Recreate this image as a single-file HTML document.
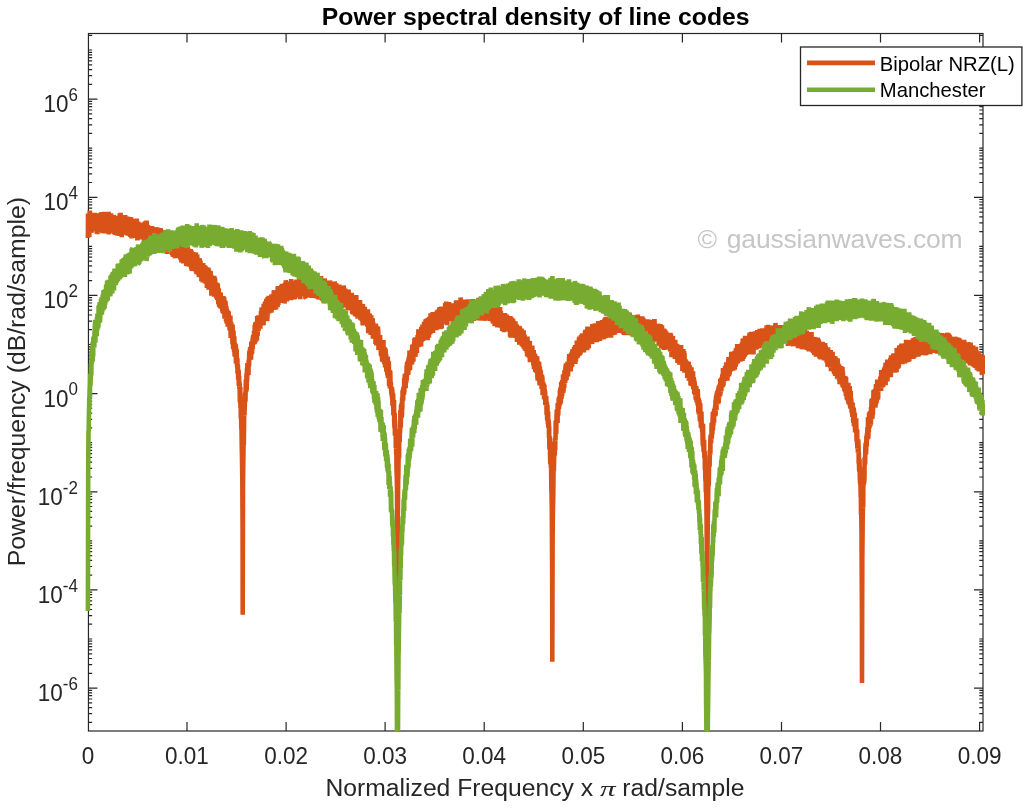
<!DOCTYPE html>
<html lang="en"><head><meta charset="utf-8"><title>Power spectral density of line codes</title>
<style>
html,body{margin:0;padding:0;background:#fff}
body{width:1024px;height:810px;overflow:hidden}
svg{display:block}
text{font-family:"Liberation Sans", sans-serif;fill:#262626}
.tk{font-size:22.5px}
.ex{font-size:17px}
.lb{font-size:24.7px}
.lg{font-size:20.25px;fill:#000}
</style></head><body>
<svg width="1024" height="810" viewBox="0 0 1024 810">
<rect width="1024" height="810" fill="#fff"/>
<defs><clipPath id="cp"><rect x="84.45" y="33.5" width="900.55" height="698.1"/></clipPath></defs>

<text x="697.6" y="248" style="font-size:26.5px;fill:#c6c6c6;word-spacing:2.6px;letter-spacing:-0.17px">© gaussianwaves.com</text>
<g stroke="#262626" stroke-width="1.2" fill="none">
<rect x="88.45" y="33.5" width="894.55" height="697.5"/>
<path d="M187.0,731.0v-9M187.0,33.5v9M286.1,731.0v-9M286.1,33.5v9M385.1,731.0v-9M385.1,33.5v9M484.2,731.0v-9M484.2,33.5v9M583.3,731.0v-9M583.3,33.5v9M682.4,731.0v-9M682.4,33.5v9M781.5,731.0v-9M781.5,33.5v9M880.5,731.0v-9M880.5,33.5v9M979.6,731.0v-9M979.6,33.5v9M88.45,722.4h3.7M983.0,722.4h-3.7M88.45,713.7h3.7M983.0,713.7h-3.7M88.45,707.6h3.7M983.0,707.6h-3.7M88.45,702.9h3.7M983.0,702.9h-3.7M88.45,699.0h3.7M983.0,699.0h-3.7M88.45,695.7h3.7M983.0,695.7h-3.7M88.45,692.8h3.7M983.0,692.8h-3.7M88.45,690.3h3.7M983.0,690.3h-3.7M88.45,688.1h9M983.0,688.1h-9M88.45,673.3h3.7M983.0,673.3h-3.7M88.45,664.7h3.7M983.0,664.7h-3.7M88.45,658.5h3.7M983.0,658.5h-3.7M88.45,653.8h3.7M983.0,653.8h-3.7M88.45,649.9h3.7M983.0,649.9h-3.7M88.45,646.6h3.7M983.0,646.6h-3.7M88.45,643.8h3.7M983.0,643.8h-3.7M88.45,641.2h3.7M983.0,641.2h-3.7M88.45,639.0h3.7M983.0,639.0h-3.7M88.45,624.2h3.7M983.0,624.2h-3.7M88.45,615.6h3.7M983.0,615.6h-3.7M88.45,609.5h3.7M983.0,609.5h-3.7M88.45,604.7h3.7M983.0,604.7h-3.7M88.45,600.8h3.7M983.0,600.8h-3.7M88.45,597.5h3.7M983.0,597.5h-3.7M88.45,594.7h3.7M983.0,594.7h-3.7M88.45,592.2h3.7M983.0,592.2h-3.7M88.45,589.9h9M983.0,589.9h-9M88.45,575.1h3.7M983.0,575.1h-3.7M88.45,566.5h3.7M983.0,566.5h-3.7M88.45,560.4h3.7M983.0,560.4h-3.7M88.45,555.6h3.7M983.0,555.6h-3.7M88.45,551.7h3.7M983.0,551.7h-3.7M88.45,548.4h3.7M983.0,548.4h-3.7M88.45,545.6h3.7M983.0,545.6h-3.7M88.45,543.1h3.7M983.0,543.1h-3.7M88.45,540.8h3.7M983.0,540.8h-3.7M88.45,526.1h3.7M983.0,526.1h-3.7M88.45,517.4h3.7M983.0,517.4h-3.7M88.45,511.3h3.7M983.0,511.3h-3.7M88.45,506.5h3.7M983.0,506.5h-3.7M88.45,502.6h3.7M983.0,502.6h-3.7M88.45,499.4h3.7M983.0,499.4h-3.7M88.45,496.5h3.7M983.0,496.5h-3.7M88.45,494.0h3.7M983.0,494.0h-3.7M88.45,491.8h9M983.0,491.8h-9M88.45,477.0h3.7M983.0,477.0h-3.7M88.45,468.3h3.7M983.0,468.3h-3.7M88.45,462.2h3.7M983.0,462.2h-3.7M88.45,457.5h3.7M983.0,457.5h-3.7M88.45,453.6h3.7M983.0,453.6h-3.7M88.45,450.3h3.7M983.0,450.3h-3.7M88.45,447.4h3.7M983.0,447.4h-3.7M88.45,444.9h3.7M983.0,444.9h-3.7M88.45,442.7h3.7M983.0,442.7h-3.7M88.45,427.9h3.7M983.0,427.9h-3.7M88.45,419.3h3.7M983.0,419.3h-3.7M88.45,413.1h3.7M983.0,413.1h-3.7M88.45,408.4h3.7M983.0,408.4h-3.7M88.45,404.5h3.7M983.0,404.5h-3.7M88.45,401.2h3.7M983.0,401.2h-3.7M88.45,398.4h3.7M983.0,398.4h-3.7M88.45,395.8h3.7M983.0,395.8h-3.7M88.45,393.6h9M983.0,393.6h-9M88.45,378.8h3.7M983.0,378.8h-3.7M88.45,370.2h3.7M983.0,370.2h-3.7M88.45,364.1h3.7M983.0,364.1h-3.7M88.45,359.3h3.7M983.0,359.3h-3.7M88.45,355.4h3.7M983.0,355.4h-3.7M88.45,352.1h3.7M983.0,352.1h-3.7M88.45,349.3h3.7M983.0,349.3h-3.7M88.45,346.8h3.7M983.0,346.8h-3.7M88.45,344.5h3.7M983.0,344.5h-3.7M88.45,329.7h3.7M983.0,329.7h-3.7M88.45,321.1h3.7M983.0,321.1h-3.7M88.45,315.0h3.7M983.0,315.0h-3.7M88.45,310.2h3.7M983.0,310.2h-3.7M88.45,306.3h3.7M983.0,306.3h-3.7M88.45,303.0h3.7M983.0,303.0h-3.7M88.45,300.2h3.7M983.0,300.2h-3.7M88.45,297.7h3.7M983.0,297.7h-3.7M88.45,295.4h9M983.0,295.4h-9M88.45,280.7h3.7M983.0,280.7h-3.7M88.45,272.0h3.7M983.0,272.0h-3.7M88.45,265.9h3.7M983.0,265.9h-3.7M88.45,261.1h3.7M983.0,261.1h-3.7M88.45,257.2h3.7M983.0,257.2h-3.7M88.45,254.0h3.7M983.0,254.0h-3.7M88.45,251.1h3.7M983.0,251.1h-3.7M88.45,248.6h3.7M983.0,248.6h-3.7M88.45,246.4h3.7M983.0,246.4h-3.7M88.45,231.6h3.7M983.0,231.6h-3.7M88.45,222.9h3.7M983.0,222.9h-3.7M88.45,216.8h3.7M983.0,216.8h-3.7M88.45,212.1h3.7M983.0,212.1h-3.7M88.45,208.2h3.7M983.0,208.2h-3.7M88.45,204.9h3.7M983.0,204.9h-3.7M88.45,202.0h3.7M983.0,202.0h-3.7M88.45,199.5h3.7M983.0,199.5h-3.7M88.45,197.3h9M983.0,197.3h-9M88.45,182.5h3.7M983.0,182.5h-3.7M88.45,173.9h3.7M983.0,173.9h-3.7M88.45,167.7h3.7M983.0,167.7h-3.7M88.45,163.0h3.7M983.0,163.0h-3.7M88.45,159.1h3.7M983.0,159.1h-3.7M88.45,155.8h3.7M983.0,155.8h-3.7M88.45,153.0h3.7M983.0,153.0h-3.7M88.45,150.4h3.7M983.0,150.4h-3.7M88.45,148.2h3.7M983.0,148.2h-3.7M88.45,133.4h3.7M983.0,133.4h-3.7M88.45,124.8h3.7M983.0,124.8h-3.7M88.45,118.7h3.7M983.0,118.7h-3.7M88.45,113.9h3.7M983.0,113.9h-3.7M88.45,110.0h3.7M983.0,110.0h-3.7M88.45,106.7h3.7M983.0,106.7h-3.7M88.45,103.9h3.7M983.0,103.9h-3.7M88.45,101.4h3.7M983.0,101.4h-3.7M88.45,99.1h9M983.0,99.1h-9M88.45,84.3h3.7M983.0,84.3h-3.7M88.45,75.7h3.7M983.0,75.7h-3.7M88.45,69.6h3.7M983.0,69.6h-3.7M88.45,64.8h3.7M983.0,64.8h-3.7M88.45,60.9h3.7M983.0,60.9h-3.7M88.45,57.6h3.7M983.0,57.6h-3.7M88.45,54.8h3.7M983.0,54.8h-3.7M88.45,52.3h3.7M983.0,52.3h-3.7M88.45,50.0h3.7M983.0,50.0h-3.7M88.45,35.3h3.7M983.0,35.3h-3.7"/>
</g>
<g clip-path="url(#cp)" fill="none" stroke-width="4.6" stroke-linejoin="bevel" stroke-linecap="butt">
<polyline stroke="#D95319" points="87.9,238.1 88.0,213.4 88.4,215.5 88.5,231.0 88.7,218.6 89.0,227.3 89.3,237.1 89.4,220.0 89.7,216.3 89.8,210.5 90.1,220.7 90.2,231.2 90.3,233.2 90.6,213.5 90.7,219.5 91.0,227.7 91.3,218.6 91.4,230.8 91.6,232.8 91.7,216.6 91.9,227.3 92.2,214.1 92.4,217.6 92.5,229.9 92.7,222.7 92.8,215.2 93.2,221.4 93.4,230.6 93.6,225.8 93.7,213.3 93.9,217.9 94.2,227.0 94.3,220.8 94.4,228.0 94.7,212.7 94.8,227.6 95.1,213.8 95.3,230.0 95.5,214.1 95.8,231.3 96.0,214.1 96.2,230.2 96.3,214.3 96.6,227.6 96.9,233.7 97.0,218.2 97.3,224.2 97.4,220.0 97.5,234.3 97.6,226.2 97.9,213.6 98.1,225.6 98.3,215.0 98.4,224.3 98.7,228.2 99.0,213.2 99.2,214.8 99.3,232.1 99.5,213.4 99.6,230.9 99.9,232.2 100.0,218.3 100.3,216.8 100.5,228.6 100.7,227.4 100.9,212.5 101.2,224.1 101.3,212.3 101.5,213.3 101.6,223.5 101.9,216.9 102.1,226.7 102.4,216.8 102.5,233.3 102.8,212.7 102.9,227.2 103.1,222.6 103.4,216.1 103.6,225.0 103.8,233.1 103.9,229.5 104.1,215.4 104.4,223.5 104.6,216.5 104.7,229.6 104.8,211.7 105.1,221.4 105.3,233.5 105.7,216.9 105.8,227.8 106.1,215.3 106.2,222.1 106.3,215.0 106.4,230.6 106.7,224.3 106.8,227.6 107.1,231.9 107.4,216.4 107.5,230.9 107.7,215.2 107.9,216.9 108.2,232.2 108.4,232.8 108.6,211.7 108.7,217.2 108.8,234.4 109.1,228.6 109.2,217.8 109.5,213.2 109.7,227.3 109.9,215.8 110.0,229.5 110.4,231.3 110.6,220.4 110.7,217.3 110.9,227.1 111.1,213.3 111.4,233.0 111.6,229.3 111.8,215.9 112.0,227.5 112.1,223.6 112.3,233.3 112.6,218.4 112.7,214.9 112.8,225.8 113.2,231.7 113.4,225.9 113.5,229.8 113.6,215.8 114.0,220.7 114.1,234.1 114.3,233.9 114.5,216.8 114.8,216.9 115.0,228.1 115.1,228.6 115.2,216.9 115.5,235.0 115.8,216.6 115.9,219.4 116.1,232.4 116.3,218.8 116.4,232.0 116.8,216.6 116.9,231.7 117.2,224.7 117.4,216.6 117.5,215.9 117.8,228.3 118.0,232.6 118.2,217.9 118.3,218.2 118.4,229.0 118.7,236.0 118.8,217.0 119.3,229.9 119.4,215.4 119.5,218.0 119.7,230.0 119.9,213.1 120.0,232.1 120.5,232.9 120.6,212.7 120.7,233.7 120.9,224.5 121.1,219.7 121.4,230.0 121.5,220.7 121.8,237.3 122.0,228.6 122.1,224.3 122.3,230.6 122.4,217.1 122.7,232.0 122.8,229.4 123.1,232.7 123.2,227.1 123.5,220.4 123.7,233.5 123.9,227.5 124.1,228.8 124.3,223.6 124.5,228.8 124.7,219.3 124.9,234.7 125.1,215.1 125.3,230.6 125.5,230.8 125.8,216.7 125.9,234.0 126.1,226.5 126.3,232.4 126.5,217.1 126.7,217.6 126.8,224.6 127.1,223.7 127.4,232.4 127.6,235.6 127.7,220.6 128.0,219.3 128.1,232.2 128.3,234.0 128.4,216.7 128.7,233.4 128.8,221.2 129.1,218.7 129.2,229.6 129.5,222.0 129.6,232.7 130.0,222.0 130.1,237.1 130.3,234.1 130.4,217.2 130.9,222.2 131.0,233.1 131.3,217.6 131.4,238.4 131.6,223.5 131.8,234.3 132.1,234.8 132.2,219.4 132.3,231.3 132.6,223.2 132.8,221.0 132.9,227.3 133.1,221.4 133.4,230.5 133.7,220.4 133.8,233.2 134.0,221.7 134.2,232.1 134.4,232.2 134.5,221.7 134.8,222.8 134.9,236.8 135.1,219.0 135.3,229.0 135.5,224.5 135.8,238.0 135.9,235.9 136.2,221.5 136.3,228.7 136.5,234.0 136.8,218.6 136.9,234.8 137.1,222.8 137.4,240.5 137.5,223.6 137.8,233.5 138.1,221.4 138.2,232.4 138.3,225.3 138.5,233.4 138.7,232.8 139.0,226.4 139.1,236.9 139.2,224.9 139.5,237.0 139.8,224.6 140.0,225.5 140.1,231.4 140.5,235.6 140.6,222.8 140.8,233.5 141.0,239.5 141.3,224.9 141.4,236.2 141.6,237.3 141.7,222.4 141.9,224.6 142.1,229.8 142.3,229.6 142.5,235.0 142.8,237.3 143.0,229.9 143.1,239.4 143.4,232.8 143.5,222.5 143.7,238.5 143.9,231.2 144.0,241.0 144.3,236.0 144.4,227.0 144.9,226.1 145.0,240.0 145.1,221.3 145.4,241.9 145.6,228.1 145.8,236.7 145.9,223.5 146.1,239.2 146.3,240.6 146.6,220.5 146.9,227.2 147.0,232.8 147.1,227.6 147.3,233.9 147.5,238.5 147.7,228.0 148.0,225.1 148.2,240.6 148.3,243.3 148.6,232.6 148.7,226.7 148.8,236.7 149.3,239.5 149.4,227.7 149.5,240.1 149.7,226.0 149.9,242.5 150.1,229.0 150.4,241.8 150.5,226.7 150.8,239.6 151.0,231.1 151.1,239.1 151.3,226.8 151.5,239.7 151.8,226.1 151.9,235.2 152.2,228.3 152.3,240.0 152.5,232.6 152.7,242.8 152.8,226.8 153.2,238.0 153.4,228.6 153.5,235.7 153.8,244.3 153.9,237.4 154.2,245.2 154.4,240.6 154.6,229.1 154.8,234.4 155.0,242.7 155.1,240.4 155.2,229.4 155.5,247.6 155.7,227.3 155.9,246.8 156.2,235.0 156.3,243.5 156.5,227.6 156.8,229.4 157.0,247.4 157.3,246.4 157.4,236.0 157.5,227.6 157.8,238.8 157.9,239.3 158.2,232.5 158.3,235.2 158.4,245.9 158.7,244.4 158.9,231.1 159.1,233.8 159.4,244.3 159.5,239.9 159.7,231.8 159.9,247.0 160.1,233.3 160.4,248.0 160.6,228.0 160.7,250.4 161.0,237.7 161.1,229.3 161.2,246.5 161.6,231.3 161.8,247.2 162.0,230.8 162.2,246.4 162.5,234.2 162.6,247.9 162.7,232.7 162.8,244.7 163.1,239.0 163.3,245.4 163.7,247.4 163.8,244.2 164.0,239.3 164.2,245.9 164.3,247.1 164.4,235.6 164.8,245.1 165.0,231.8 165.2,233.4 165.4,247.4 165.7,232.8 165.8,249.3 166.1,247.8 166.2,235.6 166.5,233.6 166.6,251.1 166.9,230.6 167.0,253.9 167.1,231.1 167.3,249.3 167.5,243.8 167.7,236.2 168.0,245.8 168.1,233.8 168.5,233.4 168.6,244.7 168.7,245.8 168.8,234.7 169.1,231.8 169.2,245.1 169.6,246.3 169.7,243.5 169.9,250.8 170.1,238.5 170.4,238.4 170.6,249.0 170.9,238.9 171.0,249.5 171.2,242.5 171.4,248.8 171.6,241.9 171.7,250.2 171.9,254.9 172.1,241.3 172.3,251.1 172.5,241.3 172.8,256.6 172.9,236.4 173.2,250.8 173.3,235.1 173.6,233.7 173.8,256.9 174.0,247.5 174.1,242.4 174.4,253.4 174.6,244.8 174.9,250.6 175.0,257.5 175.1,258.2 175.2,239.5 175.6,253.3 175.8,236.9 175.9,241.3 176.1,255.9 176.5,257.6 176.6,251.8 176.8,255.8 177.0,240.3 177.3,257.5 177.4,243.8 177.5,244.3 177.8,256.0 177.9,251.7 178.1,237.9 178.5,257.1 178.6,243.9 178.7,257.9 179.0,242.8 179.1,246.5 179.4,257.7 179.6,239.2 179.7,255.6 180.1,252.7 180.2,258.5 180.3,248.6 180.4,259.7 180.7,241.4 181.0,254.1 181.1,241.7 181.4,262.4 181.5,243.2 181.7,261.5 182.0,254.4 182.1,242.0 182.3,261.3 182.6,242.9 182.8,245.0 183.0,261.5 183.1,245.9 183.2,263.5 183.6,247.4 183.8,259.0 183.9,253.2 184.1,261.9 184.3,263.0 184.4,251.3 184.9,260.9 185.0,245.6 185.3,257.7 185.4,247.4 185.5,259.8 185.6,247.3 186.1,247.0 186.2,266.0 186.3,247.2 186.6,261.1 186.9,252.1 187.0,266.3 187.1,252.6 187.3,246.6 187.7,247.1 187.8,263.4 188.0,247.5 188.1,255.5 188.3,264.3 188.4,257.4 188.7,265.8 188.8,249.2 189.2,260.6 189.3,266.7 189.5,254.6 189.8,264.8 189.9,255.2 190.0,259.2 190.3,254.0 190.4,262.8 190.7,248.9 190.8,264.6 191.3,269.0 191.4,250.4 191.7,254.4 191.8,271.1 192.1,266.8 192.2,260.4 192.5,269.0 192.6,252.5 192.7,252.4 192.9,266.3 193.2,262.5 193.3,257.2 193.6,269.4 193.8,257.9 194.0,267.8 194.1,252.6 194.5,255.3 194.6,265.6 194.7,263.7 195.0,253.7 195.3,268.9 195.4,254.5 195.5,269.6 195.6,258.3 195.9,252.5 196.0,272.5 196.4,262.2 196.5,273.9 196.8,270.8 197.0,263.6 197.2,254.5 197.3,270.0 197.5,274.5 197.7,258.2 197.9,257.9 198.1,267.7 198.4,262.7 198.6,274.7 198.7,263.0 198.9,277.1 199.1,274.6 199.4,257.9 199.5,275.1 199.7,258.7 200.0,276.4 200.1,262.3 200.5,260.4 200.6,274.2 200.7,267.2 200.9,273.9 201.3,264.4 201.4,281.3 201.5,279.2 201.7,266.8 202.0,267.2 202.2,275.0 202.3,279.8 202.5,264.1 202.7,282.6 203.0,267.4 203.2,263.0 203.4,273.8 203.6,265.1 203.8,274.0 203.9,267.1 204.2,277.4 204.3,281.7 204.4,265.4 204.9,280.6 205.0,272.4 205.1,283.1 205.2,266.1 205.6,267.4 205.8,283.9 206.1,279.6 206.2,270.2 206.3,267.5 206.5,279.4 206.8,267.3 206.9,287.9 207.1,272.8 207.2,281.3 207.6,271.9 207.7,283.7 207.9,285.5 208.2,269.4 208.4,267.6 208.6,289.8 208.8,269.2 209.0,287.2 209.2,271.2 209.4,279.6 209.5,277.0 209.8,288.8 210.0,287.4 210.2,274.4 210.4,284.7 210.5,270.9 210.8,275.2 210.9,284.1 211.2,274.8 211.4,295.8 211.7,282.1 211.8,276.3 212.0,291.4 212.1,286.4 212.4,281.5 212.6,286.1 212.7,293.9 212.9,276.0 213.2,295.7 213.3,279.1 213.6,287.6 213.8,277.1 213.9,281.3 214.1,296.6 214.3,275.8 214.4,296.7 214.7,292.0 215.0,277.9 215.3,282.3 215.4,290.8 215.7,290.6 215.8,294.2 216.1,292.0 216.2,298.4 216.4,284.3 216.5,292.1 216.7,286.3 217.0,293.4 217.2,282.8 217.3,299.9 217.7,292.5 217.8,283.9 218.0,292.9 218.1,300.1 218.4,304.2 218.6,288.6 218.7,289.6 218.9,299.1 219.1,306.6 219.4,293.6 219.6,305.5 219.7,295.0 220.1,307.7 220.2,295.4 220.4,292.4 220.6,308.5 220.7,293.1 220.8,303.2 221.1,304.6 221.4,299.2 221.6,299.9 221.7,304.5 221.9,308.8 222.2,299.5 222.3,311.3 222.4,302.4 222.7,313.0 222.9,296.8 223.3,313.7 223.4,296.1 223.5,311.8 223.7,307.7 224.0,312.6 224.2,297.7 224.4,303.6 224.5,318.8 224.8,313.9 224.9,300.5 225.1,318.6 225.4,300.8 225.6,303.5 225.8,309.4 225.9,312.8 226.0,321.3 226.3,306.0 226.6,323.4 226.9,308.6 227.0,321.2 227.1,312.8 227.4,322.5 227.6,310.6 227.7,326.8 227.9,321.9 228.1,311.5 228.3,312.2 228.6,325.5 228.7,311.6 228.8,319.9 229.1,315.5 229.2,324.4 229.7,330.4 229.8,322.2 229.9,330.5 230.1,321.8 230.4,315.4 230.5,329.1 230.7,338.0 230.9,322.7 231.2,321.8 231.3,328.2 231.6,337.5 231.7,331.9 232.0,337.5 232.1,324.2 232.5,344.3 232.6,324.7 232.7,328.7 233.0,343.2 233.2,349.1 233.4,342.1 233.5,330.8 233.6,336.6 234.0,339.8 234.1,351.9 234.3,336.3 234.6,356.3 234.9,356.1 235.0,343.0 235.1,353.7 235.2,344.6 235.5,353.0 235.8,344.3 235.9,363.6 236.0,351.7 236.3,362.0 236.5,348.9 236.7,350.9 237.0,364.7 237.3,368.1 237.4,358.3 237.5,373.5 237.8,364.4 237.9,365.5 238.2,379.6 238.4,374.3 238.6,369.7 238.7,372.9 238.8,386.1 239.1,375.9 239.3,388.5 239.6,382.4 239.8,399.1 239.9,402.4 240.1,389.9 240.3,387.1 240.5,408.0 240.7,402.2 240.8,418.4 241.1,411.8 241.3,428.2 241.5,428.6 241.8,449.0 241.9,451.5 242.2,471.7 242.3,477.5 242.6,530.6 242.7,614.8 243.0,488.6 243.1,475.7 243.4,456.3 243.6,436.2 243.8,444.6 244.0,429.3 244.2,410.0 244.5,415.6 244.6,404.2 244.7,409.7 244.9,401.4 245.2,392.6 245.4,401.6 245.5,398.6 245.8,382.9 245.9,379.4 246.2,391.9 246.4,388.7 246.5,373.3 246.7,390.0 247.0,368.4 247.1,381.4 247.4,363.0 247.7,374.1 247.8,363.2 247.9,365.7 248.2,373.9 248.5,375.1 248.6,361.3 248.9,359.7 249.0,366.4 249.1,364.1 249.2,353.4 249.5,351.1 249.6,354.0 249.9,350.8 250.2,347.2 250.3,348.2 250.4,355.2 250.9,350.8 251.0,359.9 251.3,341.8 251.4,354.6 251.6,341.5 251.7,353.4 252.1,353.5 252.2,344.1 252.3,342.9 252.6,339.8 252.7,348.9 252.9,336.6 253.1,345.0 253.2,334.7 253.5,343.2 253.6,336.6 254.0,339.4 254.1,330.7 254.4,334.0 254.6,344.2 254.7,324.8 254.9,336.5 255.1,343.0 255.3,322.3 255.7,338.5 255.8,330.2 255.9,325.5 256.2,341.5 256.3,334.9 256.5,324.1 256.8,321.5 256.9,340.3 257.2,316.1 257.4,335.3 257.7,335.8 257.8,320.6 257.9,331.7 258.2,317.0 258.5,316.0 258.6,329.2 258.7,331.0 258.8,320.5 259.1,315.5 259.3,323.6 259.5,320.9 259.7,324.4 260.1,317.2 260.2,326.0 260.3,328.8 260.4,318.5 260.8,321.5 261.0,311.0 261.1,311.2 261.2,321.0 261.6,307.4 261.7,323.9 262.1,320.3 262.2,308.5 262.5,322.2 262.6,309.3 262.7,322.1 263.0,308.5 263.1,308.8 263.4,320.6 263.6,325.4 263.7,303.7 264.1,319.1 264.2,311.7 264.3,318.7 264.4,304.9 264.9,311.8 265.0,301.9 265.3,314.3 265.4,301.3 265.5,303.3 265.7,318.5 265.9,307.3 266.2,316.3 266.3,298.7 266.6,321.2 266.7,315.4 266.8,301.2 267.1,300.5 267.2,321.0 267.5,314.9 267.6,297.1 268.1,305.9 268.2,314.1 268.3,305.9 268.6,312.2 268.7,295.7 268.9,306.3 269.2,313.3 269.4,298.5 269.5,309.4 269.7,296.8 270.0,311.8 270.2,298.9 270.4,296.1 270.5,297.9 270.8,303.7 271.0,312.6 271.3,297.9 271.4,312.7 271.5,294.3 271.6,311.2 272.0,295.4 272.1,304.8 272.4,301.7 272.5,296.4 272.8,295.1 272.9,306.1 273.2,303.4 273.4,299.9 273.6,308.3 273.7,293.2 274.0,290.2 274.2,309.7 274.4,301.5 274.6,290.8 274.8,308.0 275.0,296.8 275.2,301.5 275.4,290.7 275.7,299.1 275.8,308.3 276.1,309.5 276.2,290.6 276.3,297.9 276.5,301.2 276.7,290.4 277.0,302.9 277.2,293.8 277.3,302.6 277.6,307.3 277.7,286.4 277.9,301.6 278.0,290.4 278.3,286.1 278.4,305.0 278.7,290.2 279.0,298.7 279.1,295.2 279.3,292.2 279.6,289.2 279.7,301.6 280.0,290.0 280.1,301.7 280.3,287.0 280.4,301.0 280.7,288.2 281.0,300.8 281.1,298.2 281.4,286.1 281.5,285.4 281.6,299.3 281.9,296.4 282.1,283.9 282.3,288.5 282.4,302.9 282.8,291.4 283.0,300.8 283.2,290.6 283.3,300.1 283.7,283.7 283.8,294.4 284.0,295.0 284.1,301.1 284.5,293.5 284.6,303.6 284.7,294.4 285.0,282.9 285.1,283.8 285.4,295.6 285.6,296.7 285.8,280.2 286.1,286.0 286.2,296.2 286.3,283.3 286.4,299.3 286.8,284.3 286.9,301.5 287.2,286.2 287.4,294.8 287.6,284.5 287.7,297.8 287.9,298.2 288.1,281.6 288.4,292.9 288.6,287.2 288.8,300.0 289.0,284.5 289.3,298.3 289.4,281.4 289.5,295.3 289.6,282.6 290.1,286.1 290.2,294.7 290.3,289.1 290.5,298.7 290.9,286.2 291.0,298.8 291.1,300.2 291.2,279.1 291.5,295.8 291.8,285.9 291.9,297.4 292.1,280.9 292.5,296.7 292.6,289.6 292.7,281.2 292.8,297.9 293.1,299.3 293.3,283.1 293.6,280.7 293.7,294.3 294.0,287.8 294.1,299.4 294.3,283.8 294.4,291.5 294.9,282.7 295.0,299.0 295.2,289.3 295.4,297.8 295.6,284.7 295.7,292.2 295.9,294.5 296.2,283.8 296.3,294.1 296.5,279.5 296.8,281.8 297.0,294.6 297.2,280.9 297.3,296.6 297.6,283.2 297.8,297.2 297.9,284.0 298.1,295.5 298.4,290.1 298.6,280.8 298.7,282.2 298.9,294.7 299.3,278.4 299.4,287.9 299.5,288.0 299.7,283.2 300.1,284.2 300.2,291.4 300.3,299.2 300.6,281.9 300.7,283.0 301.0,292.3 301.1,290.9 301.2,280.5 301.6,296.0 301.7,283.4 301.9,292.5 302.1,285.4 302.4,291.9 302.5,284.0 302.7,288.1 302.8,279.7 303.3,291.5 303.4,276.6 303.5,277.8 303.8,286.4 304.0,294.5 304.1,277.5 304.3,293.6 304.6,282.3 304.7,293.4 304.8,276.1 305.1,282.6 305.4,297.9 305.5,298.0 305.8,279.6 306.1,293.0 306.2,276.5 306.4,294.9 306.5,277.3 306.8,281.1 307.0,287.3 307.1,292.8 307.3,279.7 307.5,279.1 307.7,295.1 307.9,288.0 308.2,295.3 308.4,282.5 308.5,297.0 308.8,296.0 309.0,279.0 309.1,276.6 309.3,290.1 309.5,290.2 309.8,277.4 309.9,277.2 310.1,295.9 310.3,275.5 310.5,292.8 310.7,282.0 311.0,294.4 311.2,295.9 311.4,279.1 311.5,297.9 311.6,282.3 312.0,290.4 312.2,284.5 312.4,284.7 312.6,280.0 312.9,293.1 313.0,277.5 313.3,287.8 313.4,280.0 313.6,289.9 313.7,296.6 313.9,278.9 314.0,292.8 314.3,279.1 314.4,295.3 314.9,279.9 315.0,296.2 315.3,280.7 315.4,285.5 315.6,296.1 315.7,282.0 316.0,298.1 316.1,290.1 316.5,281.1 316.6,297.0 316.8,298.2 317.0,283.7 317.2,277.3 317.4,289.4 317.5,279.9 317.6,293.1 317.9,276.2 318.0,295.3 318.4,287.0 318.5,299.5 318.7,296.0 318.8,283.7 319.1,292.4 319.3,282.8 319.7,280.8 319.8,289.4 320.0,290.6 320.2,296.9 320.3,277.1 320.6,296.2 320.9,295.6 321.0,276.0 321.1,279.1 321.4,289.5 321.7,295.8 321.8,286.1 322.0,300.7 322.1,285.5 322.3,287.5 322.5,281.3 322.8,287.1 322.9,281.4 323.1,296.2 323.2,290.2 323.6,283.6 323.7,299.7 324.1,296.7 324.2,279.9 324.3,282.8 324.5,299.0 324.7,278.4 324.9,296.3 325.2,283.2 325.4,294.9 325.5,299.2 325.7,281.0 325.9,282.6 326.1,294.4 326.4,281.0 326.5,293.6 326.8,280.5 326.9,296.7 327.3,289.2 327.4,296.5 327.5,297.6 327.8,283.8 327.9,294.4 328.2,283.3 328.4,298.1 328.6,282.4 328.8,281.3 329.0,293.2 329.2,282.8 329.4,290.5 329.6,293.8 329.7,283.8 329.9,296.1 330.0,280.4 330.3,289.8 330.6,297.5 330.9,300.7 331.0,288.4 331.1,298.5 331.3,289.5 331.5,295.3 331.8,282.1 332.0,301.7 332.1,283.5 332.4,295.2 332.6,287.7 332.8,285.3 332.9,297.9 333.2,288.3 333.4,292.3 333.5,282.4 333.8,294.2 334.0,298.0 334.2,286.0 334.4,289.3 334.6,297.8 334.7,281.4 335.0,303.6 335.1,285.1 335.4,297.7 335.6,293.4 335.7,283.9 336.1,300.1 336.2,283.6 336.3,283.3 336.4,288.4 336.7,288.9 336.9,298.9 337.3,293.1 337.4,303.0 337.5,299.1 337.8,287.7 338.0,288.6 338.2,297.9 338.4,288.6 338.6,298.2 338.7,303.2 338.8,287.0 339.3,284.6 339.4,300.1 339.5,298.8 339.8,292.6 339.9,297.0 340.1,287.9 340.5,287.3 340.6,304.6 340.7,301.5 340.9,287.6 341.1,287.0 341.2,300.7 341.5,294.9 341.6,300.0 342.0,289.7 342.2,301.4 342.3,308.0 342.5,290.2 342.7,306.1 343.0,295.7 343.1,291.1 343.2,293.6 343.6,301.8 343.7,285.4 344.1,291.8 344.2,304.2 344.4,305.1 344.5,291.8 344.8,302.6 345.0,292.2 345.3,288.6 345.4,299.5 345.5,306.1 345.8,297.3 345.9,298.9 346.1,291.9 346.3,301.7 346.6,293.5 346.8,289.6 347.0,307.1 347.1,302.9 347.2,298.5 347.6,303.2 347.7,310.3 348.0,305.3 348.2,293.6 348.3,299.6 348.6,289.5 348.7,306.9 348.9,294.3 349.1,293.8 349.3,308.6 349.7,296.3 349.8,303.3 349.9,295.0 350.2,308.2 350.5,295.3 350.6,308.2 350.7,310.0 351.0,297.5 351.2,298.3 351.4,310.5 351.5,309.9 351.8,292.7 351.9,302.4 352.1,313.7 352.4,304.5 352.5,301.8 352.8,314.5 353.0,297.5 353.1,311.5 353.2,298.5 353.6,309.9 353.8,298.7 354.1,314.4 354.2,298.4 354.4,313.3 354.6,297.1 354.7,303.1 354.8,312.1 355.1,316.0 355.2,296.9 355.6,298.0 355.8,310.8 355.9,315.1 356.2,300.9 356.3,295.1 356.5,311.6 356.8,306.9 356.9,317.3 357.2,312.5 357.4,305.3 357.6,318.7 357.8,301.8 357.9,301.5 358.1,308.9 358.3,303.4 358.4,316.5 358.7,315.3 359.0,310.0 359.1,305.0 359.4,314.1 359.5,302.4 359.7,310.6 360.0,299.9 360.1,309.4 360.4,304.3 360.6,320.3 360.9,318.8 361.0,304.2 361.2,304.0 361.3,315.3 361.5,305.8 361.8,313.8 361.9,314.4 362.1,321.1 362.5,304.3 362.6,323.4 362.8,325.2 362.9,304.0 363.1,308.6 363.3,320.8 363.5,309.8 363.6,323.4 363.9,322.4 364.2,309.9 364.4,317.3 364.6,307.8 364.8,306.7 365.0,314.5 365.2,311.1 365.3,316.5 365.5,325.0 365.7,310.1 365.9,311.6 366.2,323.0 366.5,322.9 366.6,312.2 366.7,322.3 367.0,325.4 367.2,312.7 367.4,326.8 367.5,315.1 367.6,323.5 367.9,309.2 368.2,333.3 368.5,313.3 368.6,327.8 368.7,317.9 368.9,326.8 369.3,329.1 369.4,321.8 369.5,325.8 369.8,313.6 369.9,326.7 370.0,315.5 370.3,318.5 370.5,326.3 370.7,335.0 370.8,320.7 371.3,315.3 371.4,331.1 371.5,333.3 371.6,328.4 371.9,318.1 372.1,327.8 372.4,327.3 372.6,319.0 372.7,318.2 372.9,338.8 373.1,321.7 373.4,337.5 373.6,330.0 373.7,337.8 373.9,336.8 374.0,324.6 374.3,326.6 374.5,338.3 374.7,330.9 374.8,335.4 375.2,338.3 375.4,332.9 375.5,344.0 375.8,323.4 375.9,340.6 376.2,332.0 376.4,345.4 376.5,325.7 376.7,341.6 376.8,328.5 377.1,342.4 377.4,332.6 377.5,331.4 377.7,342.5 377.9,338.8 378.0,326.6 378.4,334.5 378.5,350.1 378.9,335.5 379.0,344.3 379.2,341.9 379.3,349.9 379.6,336.7 379.7,346.0 380.1,335.1 380.2,342.1 380.3,340.6 380.6,345.3 380.7,343.9 380.9,354.5 381.3,355.7 381.4,340.0 381.5,355.4 381.6,341.7 382.0,344.8 382.1,360.9 382.4,352.1 382.5,349.6 382.7,361.9 382.8,342.3 383.2,351.9 383.4,345.7 383.5,340.0 383.6,361.1 383.9,361.6 384.2,347.1 384.4,363.9 384.6,352.8 384.8,364.7 385.0,347.5 385.1,367.4 385.4,357.1 385.5,367.5 385.6,349.1 386.0,365.2 386.2,354.3 386.3,371.7 386.6,359.4 386.8,369.5 387.0,360.4 387.1,363.3 387.4,375.4 387.7,367.1 387.8,356.6 387.9,377.8 388.0,362.9 388.3,362.7 388.4,378.6 388.8,361.4 389.0,375.1 389.1,386.0 389.2,374.2 389.5,382.2 389.6,370.2 389.9,388.5 390.1,370.9 390.3,372.3 390.5,386.9 390.7,387.2 390.8,381.8 391.1,389.0 391.4,394.1 391.7,388.7 391.8,396.3 392.0,387.1 392.1,399.3 392.3,389.2 392.4,405.7 392.9,392.7 393.0,398.9 393.2,394.4 393.4,415.3 393.7,403.9 393.8,410.1 394.0,400.0 394.2,420.7 394.5,428.1 394.6,413.8 394.8,414.0 394.9,435.4 395.1,420.4 395.2,435.8 395.7,434.3 395.8,448.1 396.1,445.6 396.2,453.7 396.4,455.0 396.5,468.6 396.8,477.2 397.0,488.2 397.1,504.1 397.4,558.1 397.5,639.0 397.8,513.0 397.9,511.4 398.2,473.3 398.3,478.7 398.5,462.7 398.7,451.2 398.8,457.8 399.1,457.3 399.2,442.2 399.7,442.1 399.8,429.1 400.0,433.5 400.2,424.4 400.3,429.2 400.4,410.1 400.8,427.3 401.0,405.0 401.2,414.0 401.4,404.5 401.5,403.5 401.7,417.5 402.0,414.0 402.1,397.5 402.3,409.1 402.6,390.4 402.8,395.6 403.0,389.6 403.2,400.9 403.3,388.7 403.6,387.2 403.7,394.4 404.0,394.6 404.2,378.2 404.3,392.5 404.5,380.7 404.9,373.9 405.0,386.9 405.1,384.9 405.2,376.2 405.7,388.1 405.8,380.3 406.0,373.6 406.1,382.1 406.4,382.2 406.6,365.5 406.8,380.4 407.0,363.1 407.1,362.8 407.3,371.7 407.5,374.5 407.6,362.7 408.1,360.8 408.2,374.8 408.4,370.8 408.5,359.0 408.7,358.5 409.0,365.8 409.1,355.6 409.2,370.5 409.5,350.5 409.7,366.5 409.9,357.5 410.0,370.0 410.4,351.0 410.6,364.7 410.8,354.3 411.0,364.3 411.3,360.8 411.4,354.8 411.6,358.1 411.7,349.8 412.1,364.5 412.2,344.7 412.3,361.0 412.6,354.4 412.8,356.3 412.9,345.7 413.1,344.7 413.4,361.8 413.6,348.9 413.7,352.8 414.1,353.8 414.2,342.1 414.3,354.6 414.4,338.3 414.9,347.0 415.0,341.4 415.3,337.5 415.4,355.4 415.5,357.0 415.8,346.2 416.0,346.3 416.2,338.4 416.4,348.4 416.5,342.7 416.9,353.0 417.0,338.7 417.1,341.4 417.4,344.8 417.6,335.0 417.8,346.5 417.9,338.1 418.1,345.0 418.4,329.3 418.5,347.3 418.7,329.5 419.0,346.3 419.2,344.9 419.3,333.9 419.6,346.3 419.7,340.6 420.0,337.2 420.2,341.0 420.5,331.0 420.6,343.2 420.8,338.3 421.0,328.8 421.1,346.4 421.3,326.7 421.7,341.6 421.8,332.7 421.9,328.8 422.1,341.1 422.4,336.9 422.5,324.5 422.8,333.2 423.0,325.8 423.1,340.9 423.4,329.0 423.5,339.7 423.8,326.6 423.9,332.4 424.1,321.9 424.5,340.2 424.6,326.9 424.7,323.4 425.0,330.8 425.3,336.0 425.4,324.1 425.5,332.1 425.6,319.4 426.1,319.8 426.2,327.4 426.3,330.0 426.5,321.2 426.8,338.7 427.0,323.5 427.1,320.1 427.2,334.0 427.6,340.1 427.8,325.2 427.9,319.3 428.0,335.9 428.5,336.8 428.6,320.3 428.8,319.5 428.9,337.8 429.2,316.7 429.4,332.5 429.5,318.5 429.8,334.4 430.0,326.4 430.2,319.5 430.3,334.5 430.6,313.4 430.7,317.5 430.8,327.8 431.3,319.6 431.4,323.8 431.7,323.9 431.8,316.3 432.0,329.7 432.1,314.4 432.3,317.6 432.5,329.1 432.7,312.0 433.0,333.0 433.2,317.2 433.3,323.3 433.5,313.3 433.6,327.5 433.9,329.6 434.2,312.2 434.4,330.4 434.6,312.9 434.7,317.6 434.9,323.3 435.3,326.5 435.4,313.3 435.5,328.2 435.8,311.7 436.1,326.1 436.2,320.5 436.4,330.2 436.5,317.9 436.7,329.8 436.8,320.4 437.1,310.4 437.3,323.8 437.6,329.4 437.7,314.0 437.9,321.6 438.1,309.5 438.5,311.2 438.6,320.7 438.7,311.0 438.8,322.9 439.1,326.6 439.3,309.5 439.5,307.4 439.6,325.5 439.9,307.3 440.0,327.3 440.3,310.3 440.5,321.9 440.9,329.1 441.0,314.1 441.3,323.6 441.4,306.4 441.7,328.3 441.8,315.9 442.0,314.6 442.2,320.7 442.3,312.2 442.5,321.9 442.8,308.3 442.9,323.6 443.3,309.5 443.4,320.6 443.7,309.8 443.8,323.1 444.0,307.5 444.2,321.7 444.3,308.3 444.6,323.7 444.7,313.6 444.9,309.1 445.1,318.1 445.2,302.9 445.5,309.0 445.8,322.1 446.0,322.7 446.2,301.6 446.3,311.5 446.4,319.9 446.9,324.8 447.0,307.9 447.1,310.3 447.2,325.2 447.7,312.2 447.8,303.6 448.0,315.9 448.2,307.1 448.3,307.5 448.5,320.3 448.7,302.8 449.0,314.8 449.1,301.9 449.2,319.0 449.5,304.8 449.8,320.3 449.9,303.5 450.2,318.3 450.4,306.0 450.6,311.8 450.9,310.8 451.0,303.6 451.1,304.7 451.4,320.8 451.7,305.1 451.8,319.9 451.9,320.6 452.1,309.0 452.4,314.1 452.5,303.2 452.7,319.2 452.8,304.0 453.2,317.3 453.3,320.1 453.6,317.8 453.8,303.4 454.0,322.4 454.1,305.6 454.5,307.7 454.6,314.7 454.8,305.9 455.0,313.6 455.3,317.3 455.4,308.4 455.6,313.4 455.8,305.5 456.1,300.3 456.2,318.7 456.3,302.2 456.5,315.5 456.9,302.3 457.0,315.8 457.2,305.8 457.3,318.5 457.5,301.3 457.8,317.0 458.0,316.5 458.2,307.5 458.4,305.4 458.6,321.2 458.9,300.8 459.0,313.8 459.2,305.5 459.3,317.8 459.5,310.4 459.6,318.1 460.0,312.2 460.1,314.1 460.5,315.8 460.6,297.4 460.8,302.4 461.0,317.3 461.1,314.1 461.4,304.7 461.5,303.8 461.6,318.5 462.1,318.1 462.2,301.8 462.4,314.7 462.5,307.6 462.7,305.3 463.0,314.9 463.1,315.9 463.2,301.1 463.7,315.8 463.8,299.4 463.9,320.6 464.0,307.7 464.5,310.7 464.6,304.1 464.7,300.9 464.9,313.5 465.1,310.5 465.3,306.6 465.6,301.1 465.8,314.1 465.9,303.3 466.1,315.3 466.3,312.6 466.6,302.5 466.8,301.4 467.0,317.0 467.3,307.8 467.4,318.4 467.5,315.3 467.8,304.6 467.9,308.7 468.0,299.3 468.3,310.2 468.4,314.9 468.9,308.2 469.0,318.0 469.1,301.6 469.3,317.9 469.6,315.5 469.7,306.5 469.9,317.9 470.2,303.9 470.4,311.2 470.6,314.0 470.9,305.1 471.0,317.2 471.1,316.0 471.4,301.1 471.6,315.4 471.7,306.1 471.9,315.3 472.1,306.7 472.3,317.8 472.4,304.2 472.8,299.1 472.9,316.2 473.2,300.4 473.3,318.0 473.5,317.8 473.8,305.0 474.0,305.2 474.2,320.9 474.3,316.8 474.5,312.7 474.9,300.4 475.0,309.6 475.3,305.0 475.4,310.3 475.5,320.1 475.6,307.6 475.9,317.9 476.2,303.4 476.3,316.1 476.4,305.1 476.7,305.4 476.8,315.3 477.2,305.6 477.3,318.5 477.5,315.7 477.6,303.6 477.9,310.8 478.0,306.0 478.3,312.4 478.5,297.9 478.8,304.6 478.9,319.5 479.2,300.8 479.4,320.6 479.6,306.7 479.7,320.4 480.0,318.2 480.1,303.8 480.3,307.9 480.4,313.8 480.7,317.9 480.8,310.3 481.1,314.9 481.4,302.6 481.6,303.0 481.8,320.6 481.9,318.5 482.0,303.9 482.3,309.7 482.5,302.1 482.7,316.0 483.0,309.7 483.1,299.7 483.2,319.1 483.7,301.4 483.8,318.9 484.0,301.0 484.1,312.5 484.3,305.7 484.5,320.6 484.7,319.2 484.8,301.3 485.2,316.4 485.3,307.6 485.5,301.5 485.7,317.0 486.0,302.0 486.2,316.7 486.3,314.5 486.5,319.7 486.7,315.5 486.9,304.2 487.2,311.1 487.4,318.3 487.5,310.8 487.8,317.4 487.9,306.0 488.0,318.5 488.4,301.5 488.5,315.3 488.7,307.1 489.0,319.6 489.1,316.8 489.4,305.9 489.6,320.9 489.7,305.9 489.9,320.6 490.1,308.7 490.3,311.3 490.6,306.6 490.7,303.0 490.8,314.7 491.2,320.6 491.3,313.9 491.7,321.1 491.8,308.3 491.9,313.6 492.0,318.6 492.3,306.3 492.5,314.5 492.7,312.3 492.9,323.5 493.1,322.7 493.2,308.3 493.7,306.4 493.8,323.5 493.9,322.9 494.1,317.5 494.4,308.7 494.5,318.5 494.7,326.1 494.9,308.4 495.2,303.4 495.4,321.4 495.7,306.7 495.8,318.0 495.9,323.8 496.0,310.3 496.4,319.8 496.5,324.4 496.7,314.8 496.9,323.3 497.1,308.9 497.4,327.4 497.7,324.2 497.8,311.5 497.9,322.8 498.1,312.4 498.3,320.3 498.6,327.3 498.7,310.5 498.8,325.0 499.1,315.2 499.4,323.0 499.5,313.9 499.6,325.4 500.0,307.1 500.1,326.4 500.5,312.9 500.6,327.8 500.8,310.8 500.9,325.3 501.2,324.0 501.4,318.2 501.6,313.0 501.7,317.4 501.9,319.5 502.2,330.9 502.4,328.5 502.5,315.1 502.7,316.2 503.0,326.5 503.1,313.2 503.2,330.8 503.5,326.3 503.6,313.0 503.9,332.2 504.1,318.1 504.3,330.9 504.4,317.7 504.7,320.4 505.0,313.0 505.2,320.7 505.4,329.0 505.6,330.6 505.7,325.6 505.9,319.2 506.1,329.7 506.3,331.3 506.4,320.8 506.7,328.4 506.9,314.7 507.2,322.6 507.4,330.8 507.7,316.9 507.8,326.8 507.9,320.6 508.0,327.7 508.3,319.4 508.4,329.5 508.8,330.0 509.0,321.7 509.1,319.7 509.2,330.7 509.7,319.2 509.8,332.4 509.9,318.9 510.1,336.6 510.3,332.2 510.4,316.0 510.8,337.6 511.0,321.6 511.2,321.1 511.3,335.5 511.6,317.6 511.8,334.7 511.9,324.6 512.2,336.1 512.4,327.8 512.5,337.4 512.8,336.4 512.9,318.7 513.2,322.0 513.3,330.8 513.6,320.9 513.8,337.5 514.0,334.4 514.1,322.3 514.4,324.4 514.6,333.0 514.7,330.7 515.0,335.1 515.3,335.1 515.4,321.4 515.7,337.5 515.8,332.7 516.1,324.6 516.2,337.3 516.3,325.5 516.6,337.4 516.7,324.3 517.0,342.0 517.1,329.3 517.2,339.2 517.7,327.4 517.8,337.8 518.1,338.5 518.2,330.3 518.3,336.6 518.5,327.4 518.8,336.4 519.0,327.5 519.3,344.7 519.4,325.8 519.7,330.0 519.8,341.3 519.9,327.3 520.1,343.7 520.3,328.5 520.6,339.2 520.7,331.6 521.0,344.8 521.1,329.7 521.4,339.8 521.6,328.5 521.7,345.8 522.0,331.5 522.2,344.3 522.4,345.9 522.6,334.2 522.8,341.0 523.0,347.3 523.1,346.9 523.4,333.2 523.6,330.3 523.8,348.7 524.1,343.7 524.2,348.0 524.3,334.2 524.6,345.9 524.7,335.3 525.0,350.8 525.1,350.1 525.3,338.0 525.7,339.4 525.8,350.4 526.0,347.4 526.2,338.0 526.3,341.3 526.6,350.1 526.9,352.8 527.0,337.6 527.1,356.5 527.4,341.0 527.5,336.6 527.7,354.9 528.0,340.4 528.1,354.4 528.3,344.8 528.5,347.9 528.7,344.6 528.8,357.7 529.1,349.9 529.3,357.0 529.6,353.9 529.8,341.1 529.9,362.3 530.2,351.1 530.5,362.2 530.6,358.8 530.8,356.8 531.0,346.9 531.1,360.4 531.3,346.4 531.6,352.4 531.7,357.2 531.9,362.2 532.0,355.2 532.3,345.5 532.5,359.2 532.9,358.4 533.0,353.8 533.2,359.4 533.4,365.5 533.7,350.0 533.8,364.5 533.9,362.9 534.0,368.9 534.3,364.0 534.6,356.1 534.8,353.5 535.0,370.2 535.1,354.1 535.2,370.2 535.6,371.5 535.7,358.2 535.9,369.5 536.2,356.3 536.5,364.4 536.6,372.9 536.7,356.4 536.9,372.4 537.2,356.5 537.4,376.6 537.7,380.6 537.8,361.1 537.9,367.4 538.2,372.3 538.3,362.7 538.6,373.8 538.9,374.3 539.0,377.2 539.1,361.7 539.4,381.8 539.7,385.4 539.8,366.8 540.1,369.9 540.2,382.0 540.3,372.5 540.4,383.0 540.8,370.2 540.9,382.8 541.3,384.7 541.4,374.6 541.5,379.2 541.6,389.0 541.9,374.5 542.0,386.1 542.4,376.5 542.6,395.3 542.7,392.6 543.0,381.6 543.2,384.9 543.3,391.9 543.6,393.8 543.8,383.6 544.1,399.4 544.2,385.1 544.4,385.0 544.6,398.8 544.7,389.2 544.8,398.6 545.2,391.2 545.3,405.1 545.5,398.8 545.6,405.0 546.1,404.0 546.2,396.1 546.4,401.3 546.6,414.8 546.9,402.1 547.0,413.2 547.2,420.5 547.4,404.8 547.5,410.1 547.8,421.1 547.9,424.3 548.1,411.6 548.3,427.8 548.5,419.4 548.9,423.8 549.0,437.4 549.2,426.4 549.3,443.5 549.5,449.3 549.8,441.0 549.9,436.2 550.1,456.7 550.3,464.1 550.6,458.3 550.8,457.7 550.9,468.3 551.1,467.2 551.4,490.4 551.5,491.4 551.8,508.6 551.9,525.7 552.2,581.1 552.3,661.7 552.6,542.1 552.7,528.0 553.0,506.4 553.2,498.5 553.4,484.2 553.6,463.0 553.8,471.9 553.9,469.0 554.2,455.4 554.5,441.8 554.6,455.3 554.8,455.5 555.0,438.6 555.2,450.2 555.3,437.8 555.5,440.2 555.7,420.6 555.9,428.3 556.2,434.0 556.3,431.0 556.4,421.6 556.8,409.7 556.9,421.3 557.1,412.8 557.2,421.3 557.6,423.1 557.7,402.9 558.0,416.1 558.2,404.0 558.3,414.1 558.6,401.2 558.8,397.7 558.9,408.8 559.1,407.1 559.4,397.4 559.6,396.4 559.7,405.4 559.9,389.7 560.2,404.4 560.4,387.5 560.6,397.6 560.7,394.8 560.8,403.2 561.2,381.7 561.3,398.2 561.6,398.8 561.7,385.8 562.0,382.9 562.2,395.8 562.3,380.1 562.4,389.6 562.8,388.4 563.0,376.4 563.1,374.4 563.2,392.6 563.6,389.6 563.8,375.4 563.9,375.9 564.2,383.7 564.3,387.8 564.5,370.1 564.7,376.7 565.0,370.5 565.2,383.1 565.3,369.6 565.7,365.2 565.8,380.8 566.0,363.3 566.1,380.0 566.4,368.4 566.5,379.8 566.7,377.1 567.0,367.0 567.1,364.5 567.3,374.0 567.5,361.9 567.7,373.6 567.9,363.1 568.0,376.3 568.4,364.8 568.5,370.5 568.7,369.0 569.0,358.6 569.3,354.2 569.4,369.8 569.6,354.8 569.8,363.6 570.1,364.9 570.2,353.9 570.4,354.5 570.5,365.6 570.7,371.5 571.0,355.4 571.2,352.6 571.3,366.3 571.7,365.6 571.8,353.9 572.1,366.8 572.2,351.1 572.3,361.6 572.4,349.2 572.7,360.1 572.9,354.4 573.2,353.3 573.4,362.8 573.7,351.9 573.8,356.5 574.1,347.0 574.2,360.3 574.5,358.1 574.6,346.6 574.8,362.1 575.0,348.4 575.2,345.1 575.3,363.8 575.6,355.5 575.8,361.9 575.9,357.9 576.1,350.4 576.3,346.5 576.6,358.4 576.7,356.5 576.8,340.5 577.1,356.2 577.2,344.7 577.5,344.5 577.6,357.6 577.9,344.6 578.2,356.1 578.3,355.1 578.5,341.1 578.8,355.5 579.0,337.5 579.1,355.6 579.4,336.5 579.5,355.7 579.8,340.6 579.9,338.6 580.0,351.0 580.4,339.4 580.5,354.5 580.8,345.0 581.0,335.0 581.1,337.1 581.4,347.0 581.5,350.0 581.8,336.2 582.0,333.4 582.1,349.4 582.3,350.2 582.5,336.3 582.8,350.7 583.0,336.0 583.3,346.8 583.4,337.9 583.5,335.2 583.8,349.6 583.9,352.4 584.1,335.3 584.5,346.5 584.6,339.8 584.8,347.8 585.0,331.2 585.1,349.7 585.2,331.3 585.6,330.2 585.7,346.7 586.0,342.9 586.1,331.4 586.3,341.6 586.6,336.7 586.8,333.2 586.9,347.8 587.1,350.1 587.4,332.1 587.5,326.6 587.6,345.1 588.0,331.5 588.2,344.3 588.5,334.3 588.6,348.4 588.8,340.6 588.9,331.8 589.3,344.4 589.4,332.0 589.6,335.1 589.8,344.4 590.0,328.6 590.2,335.9 590.4,326.8 590.5,335.7 590.7,331.9 590.9,343.2 591.1,336.2 591.4,331.5 591.6,340.6 591.8,328.1 591.9,331.3 592.2,344.1 592.4,324.0 592.5,339.4 592.9,325.3 593.0,341.8 593.2,329.3 593.3,338.8 593.5,341.8 593.7,336.9 593.9,325.7 594.0,338.4 594.4,324.3 594.5,331.0 594.7,340.2 595.0,323.3 595.2,340.2 595.3,327.2 595.6,341.6 595.7,325.9 595.9,327.2 596.0,341.7 596.3,334.1 596.5,324.6 596.8,324.7 597.0,342.3 597.1,333.4 597.3,328.4 597.5,331.5 597.7,325.1 598.1,334.3 598.2,320.9 598.3,338.2 598.5,323.4 598.9,336.0 599.0,330.7 599.2,339.8 599.3,326.6 599.6,322.2 599.8,340.9 599.9,322.1 600.1,336.8 600.4,336.6 600.5,332.9 600.8,328.0 601.0,337.1 601.1,335.1 601.4,325.9 601.6,322.1 601.7,329.9 602.1,320.0 602.2,330.6 602.4,326.8 602.6,321.9 602.8,322.5 602.9,336.9 603.2,320.3 603.3,337.3 603.6,339.3 603.8,322.3 603.9,337.5 604.0,320.8 604.4,336.1 604.5,318.4 604.7,319.2 604.8,334.8 605.2,323.8 605.4,338.4 605.5,317.1 605.6,333.5 606.0,325.6 606.2,337.6 606.3,335.1 606.4,328.1 606.7,316.9 607.0,330.9 607.1,323.7 607.4,335.0 607.7,334.2 607.8,318.6 607.9,329.1 608.1,321.0 608.5,321.2 608.6,335.7 608.7,329.3 608.9,318.9 609.2,320.2 609.4,331.1 609.5,320.3 609.8,335.0 609.9,337.6 610.0,315.1 610.3,334.4 610.4,315.6 610.7,319.8 611.0,337.7 611.1,336.2 611.4,315.7 611.5,320.5 611.7,332.7 612.0,315.1 612.1,326.2 612.5,332.0 612.6,321.2 612.7,317.6 613.0,332.7 613.2,335.2 613.3,319.4 613.6,328.2 613.7,314.4 613.9,315.7 614.2,334.5 614.3,331.2 614.6,316.1 614.9,334.7 615.0,314.5 615.3,319.9 615.4,331.8 615.6,318.5 615.8,330.9 616.0,318.3 616.2,331.0 616.3,314.9 616.4,330.8 616.7,326.2 616.9,320.9 617.2,332.5 617.4,316.7 617.5,331.8 617.6,322.0 617.9,332.9 618.1,316.4 618.3,331.1 618.5,320.3 618.8,327.0 619.0,325.7 619.1,330.0 619.2,315.4 619.5,313.7 619.6,323.2 620.0,323.9 620.2,316.1 620.3,318.0 620.4,328.0 620.7,316.0 621.0,326.7 621.1,332.6 621.4,315.3 621.6,323.7 621.8,315.3 622.0,328.0 622.2,315.0 622.3,323.7 622.6,315.6 622.9,333.8 623.0,325.5 623.2,313.6 623.4,330.9 623.5,319.1 623.8,326.1 623.9,318.8 624.0,335.0 624.4,328.6 624.6,320.8 624.7,323.1 625.0,316.0 625.1,324.1 625.2,328.7 625.5,332.2 625.8,322.4 625.9,335.3 626.1,322.3 626.4,318.5 626.6,331.0 626.8,319.2 626.9,328.8 627.3,314.7 627.4,329.4 627.5,332.0 627.7,320.6 627.9,324.7 628.1,317.6 628.3,333.5 628.6,325.1 628.7,333.0 629.0,314.6 629.2,319.3 629.3,335.1 629.6,312.6 629.7,321.4 630.0,320.4 630.2,331.4 630.3,327.9 630.6,316.7 630.7,328.2 630.9,314.9 631.2,332.0 631.4,327.0 631.5,317.0 631.8,335.5 632.0,332.7 632.1,319.3 632.3,327.9 632.4,318.8 632.8,328.8 633.0,322.4 633.3,323.1 633.4,316.2 633.6,315.2 633.7,334.3 633.9,315.9 634.0,324.8 634.4,322.3 634.5,333.0 634.8,322.4 634.9,336.4 635.1,316.3 635.2,330.0 635.6,318.0 635.7,334.4 636.0,315.9 636.2,330.4 636.3,327.0 636.4,331.0 636.9,321.1 637.0,335.5 637.1,320.5 637.2,324.4 637.7,325.0 637.8,314.6 637.9,324.1 638.0,316.1 638.5,331.3 638.6,323.1 638.8,318.5 638.9,334.3 639.2,318.0 639.3,335.0 639.5,325.7 639.7,337.0 640.0,333.8 640.1,330.4 640.5,320.9 640.6,327.4 640.7,326.3 640.9,337.8 641.1,317.9 641.3,328.1 641.6,321.6 641.7,331.0 641.9,324.3 642.2,333.2 642.4,316.4 642.6,332.4 642.8,331.5 643.0,336.7 643.2,332.7 643.3,325.0 643.5,318.2 643.7,331.4 644.1,333.8 644.2,326.7 644.5,335.7 644.6,321.3 644.9,327.6 645.0,331.3 645.1,335.2 645.3,322.6 645.5,331.9 645.6,322.1 645.9,333.9 646.2,320.7 646.3,337.2 646.4,324.8 646.8,333.9 647.0,320.0 647.1,319.2 647.4,336.2 647.6,324.1 647.8,333.7 647.9,337.8 648.0,320.6 648.3,326.5 648.6,334.3 648.7,319.6 649.0,334.1 649.1,328.1 649.4,320.9 649.6,330.8 649.7,332.6 649.9,322.8 650.1,333.9 650.5,338.6 650.6,323.3 650.7,336.7 650.8,319.9 651.2,324.3 651.3,332.9 651.6,336.1 651.8,324.3 652.1,322.2 652.2,340.7 652.3,327.3 652.4,336.2 652.8,319.9 653.0,339.3 653.2,329.6 653.4,342.6 653.6,321.6 653.8,336.9 654.0,333.8 654.2,319.3 654.4,332.1 654.5,319.1 654.7,334.3 654.8,326.1 655.2,331.5 655.3,340.6 655.6,335.8 655.7,325.4 656.0,329.1 656.1,332.8 656.5,324.6 656.6,337.6 656.7,325.3 657.0,332.8 657.3,330.8 657.4,341.1 657.7,332.5 657.8,327.2 657.9,338.2 658.1,323.7 658.3,326.7 658.6,337.7 658.7,345.6 658.9,330.0 659.2,338.6 659.4,324.0 659.6,343.6 659.7,327.6 659.9,329.2 660.0,343.3 660.3,329.7 660.5,334.8 660.7,324.2 660.9,344.7 661.1,347.8 661.4,337.3 661.5,332.0 661.8,341.1 662.0,325.4 662.2,342.2 662.4,332.3 662.6,340.7 662.7,331.3 662.9,349.1 663.3,331.1 663.4,345.7 663.7,344.3 663.8,329.7 664.1,328.6 664.2,344.3 664.3,350.0 664.6,332.2 664.8,337.8 664.9,349.1 665.1,344.0 665.2,329.7 665.5,345.3 665.7,335.4 666.1,346.2 666.2,331.5 666.5,339.7 666.6,347.3 666.8,336.2 666.9,343.8 667.1,339.3 667.2,348.2 667.5,349.2 667.8,339.2 668.0,347.4 668.1,337.6 668.5,345.9 668.6,336.2 668.8,348.0 669.0,339.0 669.2,346.4 669.3,337.7 669.6,348.4 669.8,336.4 670.0,339.2 670.1,351.6 670.5,332.8 670.6,345.8 670.7,347.8 671.0,342.5 671.1,334.5 671.3,344.7 671.5,357.3 671.7,344.0 671.9,353.4 672.0,342.8 672.3,353.1 672.4,339.4 672.9,335.9 673.0,355.7 673.1,341.0 673.3,350.4 673.5,356.3 673.8,344.7 674.1,354.7 674.2,344.0 674.4,349.0 674.5,340.7 674.7,346.7 674.9,358.9 675.3,339.7 675.4,352.3 675.5,350.9 675.8,359.0 676.0,358.0 676.1,350.6 676.4,343.9 676.5,351.6 676.7,354.7 677.0,350.2 677.1,343.9 677.3,358.1 677.5,363.0 677.7,345.3 677.9,360.8 678.2,347.6 678.4,348.6 678.5,356.8 678.7,361.6 678.9,346.6 679.1,351.5 679.4,364.7 679.5,363.5 679.6,353.4 679.9,348.7 680.0,362.1 680.5,356.9 680.6,348.8 680.9,361.8 681.0,354.3 681.1,344.9 681.3,363.9 681.5,358.7 681.7,364.1 682.0,355.8 682.1,353.1 682.3,355.9 682.4,371.0 682.7,362.7 682.8,362.1 683.1,368.7 683.3,349.0 683.6,365.6 683.7,351.9 684.1,351.1 684.2,361.6 684.3,372.2 684.5,353.3 684.7,368.4 684.8,372.6 685.1,361.0 685.4,362.6 685.6,359.3 685.7,372.5 685.9,366.7 686.1,362.0 686.4,369.9 686.6,360.7 686.7,366.6 686.8,363.6 687.1,367.1 687.2,378.1 687.7,366.0 687.8,374.0 688.0,373.7 688.1,368.5 688.4,377.9 688.5,362.4 688.7,362.8 688.9,380.6 689.1,366.4 689.2,378.7 689.7,374.0 689.8,365.2 689.9,380.0 690.1,373.8 690.4,372.4 690.5,385.3 690.8,385.0 690.9,373.7 691.1,378.6 691.4,371.5 691.5,367.2 691.7,384.0 691.9,373.6 692.1,377.1 692.4,375.1 692.6,380.6 692.8,377.9 693.0,371.4 693.2,379.2 693.3,389.2 693.5,378.1 693.8,377.2 694.0,381.3 694.2,392.3 694.3,393.8 694.4,380.8 694.7,383.4 695.0,388.7 695.1,386.2 695.2,395.6 695.5,390.3 695.7,399.7 695.9,397.0 696.0,386.5 696.4,387.5 696.6,402.2 696.7,392.8 696.9,399.9 697.2,402.4 697.4,394.9 697.6,405.3 697.7,389.1 697.9,392.8 698.1,400.8 698.3,412.1 698.4,402.7 698.7,398.0 698.8,414.5 699.2,408.4 699.4,400.4 699.5,402.4 699.7,417.2 700.0,421.4 700.2,403.6 700.3,404.3 700.4,420.1 700.7,417.7 700.9,427.6 701.3,423.6 701.4,411.6 701.6,420.7 701.8,429.0 702.0,423.5 702.2,432.1 702.4,423.8 702.6,439.2 702.9,445.9 703.0,423.7 703.1,430.8 703.4,446.8 703.7,452.2 703.8,440.8 703.9,451.1 704.1,439.8 704.4,457.9 704.5,451.6 704.7,451.8 704.9,469.7 705.1,464.9 705.4,480.7 705.5,472.2 705.8,492.1 705.9,477.2 706.2,494.4 706.4,504.4 706.6,522.0 706.7,533.7 707.0,592.6 707.1,663.5 707.5,546.7 707.7,527.7 707.9,506.9 708.0,514.2 708.2,494.3 708.5,475.7 708.7,485.7 708.8,482.8 709.0,465.9 709.4,465.4 709.5,455.3 709.6,466.8 709.8,450.0 710.2,454.9 710.3,439.3 710.4,453.0 710.5,436.5 710.9,435.3 711.1,443.1 711.3,434.2 711.4,439.9 711.6,423.2 711.8,438.1 712.1,422.3 712.3,434.4 712.4,432.6 712.6,419.4 712.9,412.0 713.0,430.3 713.2,411.4 713.4,425.5 713.7,416.3 713.8,422.0 714.1,422.8 714.2,408.6 714.4,416.1 714.6,412.1 715.0,413.6 715.1,405.5 715.3,416.3 715.5,400.2 715.6,415.2 715.8,399.8 716.2,395.8 716.3,408.3 716.5,409.9 716.7,392.8 716.8,400.0 717.1,403.4 717.2,390.7 717.3,400.1 717.8,404.2 717.9,389.4 718.2,393.3 718.3,388.2 718.6,403.6 718.7,385.7 718.8,401.6 718.9,385.6 719.3,397.7 719.4,387.1 719.6,396.2 719.7,384.1 720.2,396.2 720.3,378.7 720.6,393.5 720.7,380.7 720.8,388.6 721.0,381.5 721.4,391.3 721.5,377.2 721.6,379.3 721.7,387.3 722.2,385.1 722.3,374.3 722.5,377.0 722.7,387.4 723.0,368.0 723.1,385.4 723.3,371.6 723.4,385.6 723.6,382.2 723.8,369.3 724.1,381.4 724.2,373.2 724.6,379.4 724.7,368.8 724.8,381.3 725.0,367.3 725.2,366.0 725.5,376.8 725.7,372.9 725.9,366.1 726.1,379.9 726.2,362.3 726.4,370.5 726.6,379.9 726.8,376.5 727.0,363.6 727.2,365.0 727.4,380.8 727.7,371.3 727.8,376.0 728.1,369.9 728.3,359.6 728.4,371.3 728.5,356.9 728.8,360.7 729.0,376.3 729.2,372.4 729.3,360.1 729.6,374.9 729.9,363.0 730.2,369.9 730.3,357.1 730.4,358.7 730.5,371.5 730.8,368.8 731.0,360.4 731.3,351.9 731.5,370.4 731.6,361.6 731.9,369.9 732.1,354.2 732.3,364.3 732.6,351.8 732.7,361.9 732.9,354.2 733.0,367.8 733.2,370.8 733.5,354.2 733.6,366.7 733.8,353.6 734.0,354.6 734.1,357.7 734.5,364.7 734.7,350.9 734.8,369.7 735.1,356.8 735.2,357.7 735.5,351.9 735.7,366.6 735.9,348.2 736.0,364.9 736.1,351.9 736.4,361.6 736.7,347.7 737.0,350.3 737.1,363.7 737.2,343.9 737.5,360.7 737.6,354.0 737.8,363.0 738.1,355.3 738.3,360.0 738.5,360.9 738.7,348.3 738.9,352.8 739.0,345.1 739.2,359.5 739.3,345.2 739.8,352.9 739.9,361.6 740.1,358.6 740.2,345.5 740.4,349.7 740.5,361.6 740.8,351.0 741.1,346.9 741.2,357.2 741.4,345.7 741.7,351.1 741.8,342.5 742.0,355.7 742.2,343.4 742.5,361.1 742.7,338.7 742.9,341.6 743.0,355.0 743.2,355.6 743.4,338.2 743.6,359.0 743.7,340.9 744.0,343.2 744.2,353.8 744.5,341.3 744.6,355.1 745.0,356.7 745.1,335.7 745.3,342.4 745.5,348.2 745.6,347.8 745.9,354.8 746.0,353.0 746.1,342.1 746.6,337.2 746.7,350.7 746.9,338.3 747.0,353.6 747.4,344.8 747.5,340.4 747.6,350.7 747.7,337.2 748.0,339.7 748.2,338.3 748.4,341.9 748.7,349.5 748.9,339.9 749.1,352.9 749.2,354.4 749.3,336.6 749.6,332.8 749.8,340.4 750.1,335.4 750.3,353.3 750.6,336.0 750.7,351.7 750.8,340.3 750.9,350.6 751.3,348.9 751.5,331.7 751.8,349.1 751.9,337.0 752.1,348.2 752.2,335.0 752.4,349.5 752.5,332.2 752.8,346.5 752.9,335.6 753.4,336.5 753.5,354.5 753.7,332.3 753.8,343.7 754.2,345.8 754.3,333.0 754.6,342.3 754.7,338.8 754.8,341.6 755.1,331.2 755.3,334.4 755.4,342.3 755.8,339.9 755.9,349.8 756.1,333.2 756.2,343.6 756.4,331.8 756.6,349.3 756.8,339.3 757.1,332.0 757.3,330.4 757.5,347.5 757.8,336.6 757.9,330.1 758.0,347.5 758.1,334.7 758.4,331.0 758.5,344.1 758.8,335.0 758.9,348.4 759.2,335.6 759.4,346.2 759.6,345.6 759.7,328.8 760.1,337.4 760.2,334.5 760.4,339.7 760.7,347.4 761.0,331.9 761.1,344.6 761.3,334.4 761.5,341.4 761.6,331.6 761.7,346.0 762.2,341.6 762.3,328.3 762.4,329.8 762.7,338.6 762.8,344.6 762.9,332.2 763.3,343.2 763.5,334.6 763.7,337.3 763.9,332.6 764.1,339.7 764.2,331.4 764.4,331.2 764.7,340.7 764.8,344.6 764.9,330.1 765.2,330.5 765.3,342.3 765.6,335.9 765.9,330.3 766.0,336.7 766.2,346.0 766.5,346.3 766.6,325.5 766.8,331.5 767.0,335.4 767.2,343.6 767.3,329.7 767.8,325.2 767.9,340.5 768.0,340.3 768.3,324.9 768.5,335.3 768.6,329.6 768.8,326.8 769.0,332.2 769.3,327.4 769.5,340.7 769.7,329.7 769.9,345.3 770.1,332.4 770.3,345.4 770.4,326.7 770.6,332.1 770.8,328.1 770.9,335.9 771.3,338.0 771.5,331.1 771.6,328.6 771.9,342.1 772.0,345.7 772.3,326.2 772.5,342.9 772.6,333.6 772.8,344.6 772.9,327.2 773.4,326.1 773.5,331.7 773.7,342.2 773.9,331.2 774.1,342.1 774.3,335.8 774.5,337.8 774.6,328.6 775.0,337.6 775.1,326.8 775.4,337.0 775.5,322.9 775.6,329.2 775.9,345.7 776.0,343.7 776.1,337.3 776.4,335.0 776.6,344.8 777.0,330.2 777.1,344.0 777.3,325.3 777.5,346.5 777.6,341.4 777.8,326.9 778.1,325.7 778.2,344.1 778.5,340.1 778.7,330.3 778.8,326.7 778.9,342.3 779.3,340.4 779.5,329.5 779.6,335.1 779.8,343.0 780.1,335.5 780.2,341.3 780.6,325.1 780.7,344.3 780.9,326.3 781.1,342.2 781.3,330.8 781.5,337.1 781.8,336.2 781.9,332.2 782.0,328.1 782.2,337.5 782.6,325.1 782.7,341.5 782.9,339.3 783.0,326.9 783.2,328.8 783.4,340.1 783.6,325.4 783.7,335.8 784.0,325.2 784.1,338.8 784.5,336.2 784.7,326.0 784.9,339.7 785.1,328.8 785.2,334.1 785.3,342.0 785.7,332.2 785.9,343.2 786.1,329.8 786.2,343.6 786.6,337.9 786.7,328.6 786.9,340.9 787.1,331.9 787.2,334.8 787.4,340.6 787.7,327.8 787.9,343.1 788.0,345.9 788.3,331.7 788.5,327.1 788.6,332.5 788.8,334.4 789.1,326.4 789.2,342.8 789.3,333.6 789.6,329.0 789.9,340.4 790.1,344.7 790.3,324.4 790.4,331.8 790.7,339.0 790.8,333.7 790.9,338.0 791.2,324.3 791.5,344.0 791.6,327.1 791.7,339.2 792.0,330.9 792.1,344.9 792.5,331.9 792.6,344.5 792.9,346.2 793.0,330.9 793.2,338.1 793.4,325.2 793.6,339.1 793.9,326.1 794.0,344.5 794.3,338.4 794.6,329.3 794.7,341.6 794.9,329.1 795.0,346.2 795.2,342.2 795.3,332.8 795.6,330.9 795.9,337.3 796.0,345.5 796.3,326.5 796.4,330.7 796.5,341.7 796.9,328.6 797.0,342.5 797.3,329.0 797.4,341.2 797.6,344.8 797.8,331.7 798.0,348.3 798.1,329.8 798.4,327.8 798.6,340.6 798.8,333.3 799.0,343.4 799.3,347.1 799.5,339.7 799.7,344.8 799.9,332.5 800.0,330.7 800.1,343.1 800.5,340.6 800.6,333.2 800.8,328.9 801.0,344.3 801.3,334.7 801.5,344.8 801.6,336.8 801.8,349.3 802.2,343.6 802.3,334.8 802.5,329.7 802.7,344.1 802.8,339.6 803.0,332.2 803.3,345.4 803.5,331.9 803.6,334.0 803.8,341.4 804.1,338.9 804.2,346.1 804.6,346.1 804.7,332.2 805.0,329.1 805.1,343.9 805.2,344.3 805.4,332.6 805.7,336.6 805.9,347.8 806.0,336.8 806.2,349.4 806.4,335.0 806.6,346.2 806.8,330.9 807.0,345.5 807.2,350.0 807.3,341.3 807.6,336.5 807.9,346.4 808.0,332.7 808.1,347.1 808.6,333.3 808.7,351.4 808.8,334.3 809.1,350.2 809.2,337.2 809.4,346.3 809.8,340.6 809.9,332.4 810.0,348.5 810.2,336.5 810.4,345.4 810.6,333.8 811.0,339.8 811.1,350.3 811.2,348.0 811.5,332.0 811.6,337.0 811.7,349.3 812.0,336.5 812.3,346.9 812.4,352.2 812.7,345.9 812.9,337.7 813.1,341.7 813.3,353.2 813.4,343.2 813.6,353.3 813.9,340.1 814.2,337.1 814.3,355.0 814.6,338.6 814.7,349.8 814.9,338.9 815.0,353.9 815.3,349.0 815.5,339.6 815.6,345.8 815.9,356.7 816.1,351.2 816.2,339.0 816.4,339.0 816.7,349.2 817.0,356.3 817.1,342.1 817.4,349.6 817.5,354.0 817.6,337.5 817.8,356.1 818.2,340.8 818.3,353.5 818.5,352.2 818.6,340.3 818.9,340.5 819.1,356.5 819.4,342.2 819.5,358.4 819.7,344.2 819.8,355.8 820.2,349.3 820.3,357.1 820.4,342.9 820.5,359.5 820.8,342.3 821.1,356.6 821.2,359.3 821.4,346.0 821.8,345.5 821.9,357.8 822.0,346.0 822.3,354.5 822.4,358.4 822.6,341.8 822.9,353.0 823.0,343.0 823.3,348.9 823.4,359.4 823.6,346.5 823.7,355.2 824.0,342.9 824.1,360.4 824.6,352.0 824.7,359.9 825.0,357.5 825.1,343.1 825.2,360.4 825.3,355.4 825.7,345.8 825.8,356.7 826.1,353.0 826.3,359.9 826.4,350.8 826.7,362.6 826.9,347.7 827.1,357.4 827.4,347.6 827.5,366.8 827.8,358.4 827.9,366.1 828.1,347.3 828.3,366.7 828.6,351.5 828.7,361.8 828.8,361.1 828.9,354.8 829.4,362.8 829.5,354.3 829.6,351.1 829.9,366.3 830.0,351.8 830.2,367.7 830.4,365.9 830.7,350.0 831.0,371.1 831.1,361.0 831.3,359.2 831.4,370.6 831.6,359.6 831.9,353.7 832.1,352.9 832.2,371.1 832.4,366.4 832.6,351.7 832.9,369.4 833.1,356.6 833.3,371.5 833.4,356.6 833.7,358.8 833.9,371.5 834.2,373.7 834.3,356.4 834.5,358.9 834.7,372.5 834.8,359.3 835.0,374.2 835.2,375.8 835.3,356.6 835.7,359.5 835.9,372.1 836.0,375.4 836.2,358.6 836.4,372.8 836.7,359.3 837.0,364.6 837.1,378.8 837.3,376.9 837.5,365.5 837.6,358.2 837.9,371.4 838.1,366.1 838.2,373.6 838.4,363.5 838.7,379.6 838.8,376.1 838.9,366.3 839.2,364.5 839.3,379.1 839.7,384.0 839.9,369.5 840.2,378.0 840.3,370.0 840.4,380.3 840.6,369.0 840.8,366.2 840.9,379.7 841.2,366.1 841.4,380.8 841.6,381.8 841.9,373.1 842.0,385.0 842.3,375.7 842.5,366.9 842.6,387.3 842.9,371.3 843.0,376.9 843.3,387.6 843.5,375.8 843.7,379.5 843.9,385.1 844.0,381.4 844.2,390.7 844.5,380.0 844.6,383.9 845.0,392.2 845.1,380.9 845.2,376.0 845.4,388.1 845.7,377.1 845.8,395.8 846.1,377.5 846.3,396.1 846.4,384.6 846.7,399.1 846.9,386.3 847.1,398.2 847.2,400.3 847.5,384.2 847.8,386.9 847.9,397.4 848.2,393.9 848.3,402.4 848.4,382.8 848.6,403.3 848.8,403.7 849.0,394.2 849.2,390.4 849.5,404.8 849.6,393.2 849.7,386.0 850.1,407.7 850.3,393.9 850.4,408.8 850.7,390.8 850.9,402.6 851.0,408.4 851.2,398.6 851.4,402.1 851.6,412.6 851.7,402.3 852.1,410.0 852.3,416.1 852.4,416.5 852.7,402.8 852.8,405.7 853.1,410.2 853.2,422.7 853.3,408.6 853.8,407.8 853.9,426.2 854.0,410.5 854.1,415.5 854.4,424.6 854.6,413.2 854.8,414.0 854.9,425.9 855.2,432.5 855.3,420.2 855.6,431.9 855.9,423.2 856.2,418.2 856.3,424.0 856.6,441.5 856.7,430.8 857.0,429.3 857.1,444.0 857.2,430.0 857.3,448.4 857.7,444.6 857.9,452.6 858.1,451.1 858.2,439.3 858.6,447.4 858.7,463.4 858.8,451.7 859.1,469.3 859.3,471.5 859.5,459.1 859.7,468.7 859.8,477.3 860.2,484.3 860.3,475.5 860.4,478.1 860.7,497.0 860.9,496.8 861.0,514.7 861.2,507.3 861.5,530.8 861.6,550.4 861.9,607.7 862.0,683.0 862.3,560.4 862.4,550.1 862.7,517.6 862.8,514.2 862.9,504.2 863.2,507.8 863.3,487.8 863.8,476.7 863.9,484.5 864.0,467.3 864.2,483.0 864.5,476.8 864.6,457.3 865.0,461.7 865.1,464.5 865.2,458.4 865.3,448.5 865.7,442.6 865.8,451.9 866.0,454.4 866.2,450.2 866.4,435.8 866.6,446.0 866.8,446.2 866.9,433.2 867.2,440.0 867.4,427.3 867.6,437.3 867.9,427.6 868.0,417.3 868.3,438.9 868.6,426.9 868.7,419.1 868.8,431.9 869.1,412.5 869.2,416.5 869.5,428.3 869.6,423.2 869.8,411.6 870.0,419.4 870.3,411.0 870.4,426.0 870.6,413.2 870.9,424.6 871.0,407.0 871.2,419.9 871.5,399.6 871.6,411.5 871.9,398.9 872.1,406.3 872.2,418.7 872.5,416.4 872.6,398.1 872.9,414.6 873.1,398.2 873.3,403.7 873.5,390.4 873.6,405.2 873.9,396.0 874.1,389.9 874.2,407.7 874.5,401.0 874.7,390.5 874.8,393.7 875.0,389.6 875.2,389.5 875.3,407.6 875.7,404.1 875.9,386.9 876.0,384.0 876.1,404.3 876.4,384.1 876.5,402.3 876.8,401.5 877.1,385.9 877.2,379.6 877.4,393.6 877.7,385.7 877.9,399.3 878.2,397.2 878.3,381.5 878.4,381.7 878.7,388.7 878.8,382.2 879.0,386.9 879.3,391.3 879.5,384.7 879.6,390.5 879.9,379.4 880.1,386.0 880.3,376.5 880.4,387.2 880.5,377.2 880.9,377.7 881.1,391.1 881.2,369.9 881.4,384.3 881.6,387.8 881.9,374.4 882.1,387.8 882.3,372.2 882.4,385.5 882.6,373.3 882.8,376.1 883.1,387.0 883.2,372.7 883.5,385.7 883.6,369.3 883.8,379.9 884.0,379.5 884.3,367.5 884.4,380.7 884.5,376.1 884.8,376.8 885.1,366.0 885.4,384.1 885.5,362.8 885.6,385.1 885.8,368.4 886.1,364.6 886.2,378.1 886.5,373.0 886.6,367.9 887.0,377.9 887.1,363.9 887.3,359.5 887.5,381.6 887.6,363.0 887.7,373.2 888.2,360.7 888.3,364.7 888.4,367.8 888.7,375.3 888.8,372.0 889.1,369.7 889.2,373.8 889.5,366.2 889.7,375.2 889.9,364.2 890.1,375.6 890.2,361.5 890.4,357.8 890.5,369.7 890.8,377.1 891.1,355.3 891.3,357.4 891.4,372.3 891.7,363.8 891.8,369.9 892.1,355.9 892.2,366.2 892.4,361.4 892.6,365.7 892.8,369.9 892.9,356.5 893.3,354.6 893.4,371.2 893.8,353.3 893.9,372.3 894.0,364.6 894.3,359.6 894.5,354.3 894.6,372.6 894.9,358.4 895.1,365.6 895.2,371.2 895.4,362.0 895.6,363.4 895.9,353.7 896.2,362.0 896.3,354.0 896.6,372.4 896.7,347.9 896.9,348.8 897.0,368.9 897.3,355.7 897.5,360.9 897.6,365.3 897.8,359.7 898.0,368.6 898.1,361.3 898.4,357.6 898.5,350.7 898.8,367.8 899.1,348.0 899.4,345.5 899.5,362.8 899.6,348.3 899.9,362.1 900.1,362.7 900.2,352.9 900.4,345.8 900.5,363.6 901.0,360.3 901.1,360.0 901.3,360.9 901.4,343.5 901.8,358.7 901.9,345.0 902.0,358.3 902.3,361.2 902.4,364.1 902.6,353.4 903.0,354.8 903.1,343.6 903.3,361.0 903.5,345.4 903.6,360.9 903.9,345.8 904.0,363.5 904.1,347.2 904.5,345.2 904.6,362.9 904.9,362.0 905.1,358.0 905.2,343.3 905.4,360.4 905.6,360.3 905.8,347.6 906.0,348.1 906.1,339.9 906.5,346.1 906.6,356.1 906.9,341.6 907.0,361.0 907.2,352.2 907.5,341.9 907.8,340.4 907.9,360.7 908.1,349.7 908.2,344.7 908.4,351.7 908.6,344.1 908.8,339.9 908.9,360.7 909.3,361.2 909.5,342.5 909.7,357.2 909.9,343.7 910.1,344.8 910.2,351.0 910.5,354.4 910.7,346.7 910.8,342.7 910.9,352.4 911.3,351.1 911.5,343.6 911.6,343.1 911.7,358.4 912.0,341.3 912.1,349.6 912.5,359.0 912.6,341.9 912.8,338.6 913.0,347.0 913.4,340.9 913.5,358.7 913.7,350.3 913.9,337.7 914.2,338.7 914.3,357.3 914.6,339.7 914.7,356.8 915.0,357.0 915.1,345.8 915.3,337.3 915.4,355.3 915.6,337.5 915.7,353.3 916.2,336.7 916.3,354.1 916.4,345.0 916.6,355.0 916.8,342.5 917.1,350.2 917.2,346.1 917.4,337.3 917.8,351.4 917.9,346.0 918.1,338.5 918.3,356.8 918.5,338.1 918.6,351.2 918.8,337.6 919.1,355.6 919.2,350.0 919.4,341.8 919.7,336.6 919.9,346.5 920.0,347.8 920.3,337.8 920.5,349.8 920.6,340.3 920.9,354.3 921.0,338.9 921.2,350.1 921.5,346.9 921.6,337.4 921.9,351.0 922.1,333.8 922.2,352.0 922.6,337.6 922.7,355.0 923.0,342.5 923.1,351.2 923.4,354.1 923.5,346.5 923.8,351.3 923.9,338.3 924.0,355.3 924.1,339.0 924.4,349.8 924.7,338.6 924.8,354.2 925.0,341.1 925.4,354.9 925.5,337.3 925.6,350.2 925.7,333.7 926.0,337.4 926.2,355.4 926.5,346.8 926.7,336.5 926.9,335.6 927.0,340.4 927.2,351.3 927.5,337.6 927.6,342.9 927.8,351.6 928.1,345.5 928.3,336.0 928.5,336.4 928.7,352.2 928.8,350.6 929.0,336.9 929.3,346.3 929.4,340.7 929.6,338.6 929.8,350.0 930.2,335.8 930.3,354.3 930.4,336.5 930.7,350.2 930.8,338.0 930.9,349.9 931.2,331.2 931.4,351.4 931.7,350.1 931.9,338.2 932.0,332.4 932.3,348.8 932.4,338.1 932.6,341.6 932.9,349.6 933.1,337.5 933.2,353.0 933.4,344.8 933.6,345.2 933.7,338.2 934.0,351.4 934.1,343.4 934.4,346.4 934.7,335.3 934.9,337.8 935.1,350.0 935.2,346.4 935.5,334.5 935.6,340.1 935.9,353.0 936.0,345.0 936.3,333.2 936.6,352.8 936.7,331.4 936.8,350.5 936.9,335.7 937.2,353.8 937.5,333.4 937.6,337.9 937.9,351.3 938.0,352.3 938.3,333.4 938.4,337.8 938.5,348.4 938.8,339.9 939.0,345.5 939.4,339.2 939.5,348.3 939.8,337.2 939.9,348.8 940.0,345.0 940.3,335.3 940.4,342.3 940.7,352.0 940.9,345.0 941.1,337.9 941.4,339.5 941.5,338.0 941.6,333.1 941.9,351.2 942.2,353.0 942.3,333.4 942.4,335.0 942.5,350.6 942.9,346.3 943.0,338.8 943.4,338.3 943.5,350.8 943.7,352.9 943.9,349.3 944.0,336.2 944.1,347.6 944.4,335.3 944.5,350.5 944.9,352.7 945.1,346.2 945.2,355.3 945.3,333.5 945.8,340.0 945.9,345.5 946.0,349.2 946.3,336.2 946.4,344.2 946.6,352.1 947.0,349.9 947.1,333.8 947.2,353.0 947.3,332.8 947.6,334.6 947.9,343.9 948.2,339.6 948.3,350.8 948.4,349.7 948.5,333.9 948.9,335.6 949.1,348.6 949.4,355.9 949.5,335.0 949.6,335.6 949.7,347.2 950.0,348.4 950.3,343.6 950.5,341.2 950.7,355.0 950.9,354.5 951.1,338.1 951.3,337.1 951.5,352.9 951.6,352.5 951.9,337.4 952.1,337.1 952.2,355.0 952.6,353.3 952.7,338.7 953.0,337.9 953.1,353.7 953.3,353.2 953.4,343.1 953.6,356.6 953.8,339.4 954.1,353.2 954.2,344.2 954.5,352.7 954.6,346.2 954.9,352.8 955.0,336.7 955.3,342.6 955.4,354.4 955.8,337.3 955.9,350.8 956.1,357.7 956.2,340.3 956.5,355.5 956.7,339.1 956.8,359.1 956.9,337.3 957.2,355.4 957.3,338.7 957.7,343.2 957.8,352.5 958.1,345.9 958.3,356.8 958.5,337.8 958.6,347.2 958.8,352.7 959.1,347.2 959.3,344.0 959.4,352.2 959.7,338.5 959.8,352.3 960.1,344.6 960.3,354.6 960.4,346.7 960.6,353.0 960.8,361.2 960.9,341.7 961.4,350.9 961.5,347.1 961.6,344.5 961.9,360.0 962.0,355.5 962.3,342.6 962.4,347.8 962.5,356.4 963.0,345.1 963.1,358.9 963.3,358.7 963.4,342.0 963.6,359.8 963.7,351.4 964.1,355.1 964.2,339.8 964.4,343.1 964.7,359.6 965.0,345.0 965.1,359.0 965.3,360.2 965.5,349.5 965.6,359.2 965.8,348.0 966.2,361.1 966.3,345.5 966.6,343.7 966.7,353.9 967.0,363.5 967.1,344.4 967.4,346.9 967.5,354.7 967.7,344.9 967.8,358.0 968.0,358.0 968.2,342.2 968.4,344.6 968.5,349.0 968.8,345.7 969.1,360.6 969.2,357.0 969.5,350.3 969.7,348.0 969.8,363.0 970.0,365.3 970.3,344.3 970.4,362.5 970.5,342.7 970.9,346.9 971.0,361.1 971.3,349.3 971.5,359.2 971.7,352.0 971.9,364.4 972.0,346.2 972.2,361.0 972.5,348.0 972.6,355.3 972.9,366.5 973.1,345.4 973.2,349.8 973.4,359.7 973.6,363.7 973.8,350.8 974.1,358.5 974.2,349.1 974.5,355.8 974.6,367.5 974.9,356.6 975.0,364.7 975.4,355.5 975.5,368.1 975.6,364.1 975.9,346.7 976.1,365.7 976.2,352.1 976.4,350.4 976.6,363.6 976.9,369.8 977.0,357.1 977.2,352.0 977.5,370.3 977.7,354.4 977.9,367.0 978.0,356.9 978.3,363.2 978.5,351.2 978.6,366.9 978.8,371.5 978.9,355.3 979.4,370.3 979.5,353.7 979.6,362.6 979.7,353.7 980.0,366.2 980.1,354.7 980.6,369.2 980.7,359.6 981.0,369.5 981.1,355.8 981.4,363.5 981.5,371.1 981.7,360.3 981.8,372.4 982.0,375.0 982.3,360.7 982.4,355.2 982.6,371.4 982.9,373.9 983.0,355.2"/>
<polyline stroke="#77AC30" points="87.9,611.0 88.2,465.8 88.3,456.2 88.5,431.5 88.7,430.4 88.9,415.4 89.3,397.9 89.4,409.0 89.5,399.5 89.8,388.1 89.9,396.9 90.2,374.1 90.5,385.7 90.6,373.7 90.7,380.8 91.0,364.0 91.2,363.7 91.3,375.4 91.6,351.8 91.7,363.4 91.9,362.5 92.2,346.7 92.5,361.5 92.6,342.1 92.7,361.5 93.0,349.5 93.2,356.3 93.3,340.1 93.5,336.7 93.8,346.3 93.9,337.0 94.2,346.8 94.3,347.8 94.5,331.4 94.7,342.9 94.8,326.5 95.3,320.0 95.4,342.7 95.5,323.5 95.7,333.2 96.0,332.8 96.2,322.2 96.4,322.0 96.5,331.7 96.7,336.1 97.0,317.3 97.3,330.7 97.4,313.6 97.5,315.2 97.8,325.9 98.1,319.6 98.2,328.3 98.5,324.0 98.6,305.4 98.9,308.6 99.0,322.2 99.1,323.4 99.2,308.8 99.7,302.1 99.8,316.5 99.9,303.3 100.0,322.1 100.5,310.6 100.6,302.7 100.8,313.2 101.0,299.1 101.1,304.9 101.4,312.4 101.5,311.3 101.7,297.0 101.9,314.7 102.1,298.4 102.3,304.4 102.4,311.7 102.7,294.6 102.8,309.0 103.2,307.2 103.4,290.4 103.7,291.0 103.8,309.8 104.0,300.5 104.1,292.8 104.4,289.9 104.6,308.4 104.7,297.8 105.0,289.5 105.2,304.7 105.4,294.5 105.5,300.4 105.6,292.3 106.0,297.1 106.1,284.7 106.3,302.3 106.6,284.2 106.7,285.4 106.9,300.0 107.1,280.4 107.4,299.2 107.5,292.6 107.7,300.6 107.9,294.1 108.1,287.9 108.4,296.2 108.6,279.7 108.7,282.7 109.0,287.5 109.2,292.2 109.3,283.6 109.6,294.4 109.8,282.5 110.0,283.5 110.1,291.6 110.4,296.5 110.5,275.8 110.7,282.3 110.9,289.9 111.3,292.9 111.4,277.8 111.5,274.6 111.7,287.0 111.9,275.4 112.1,287.3 112.3,293.5 112.5,274.5 112.7,272.5 112.9,287.1 113.1,284.2 113.3,277.0 113.7,271.8 113.8,288.1 114.0,290.5 114.2,272.2 114.3,284.3 114.6,268.6 114.8,284.0 114.9,278.2 115.2,272.8 115.4,285.3 115.5,281.8 115.6,271.3 116.0,284.7 116.1,274.0 116.3,277.9 116.4,270.9 116.8,282.6 116.9,275.5 117.2,269.5 117.3,278.1 117.5,274.7 117.8,264.1 117.9,271.3 118.0,281.1 118.3,263.6 118.5,275.1 118.7,272.1 118.8,269.8 119.2,271.0 119.4,265.5 119.6,263.8 119.8,279.5 120.1,263.4 120.2,275.6 120.4,275.2 120.6,267.2 120.8,277.7 121.0,264.8 121.2,275.2 121.4,263.8 121.7,268.1 121.8,259.3 122.0,260.7 122.2,272.8 122.3,275.5 122.6,262.0 122.7,260.7 123.0,266.0 123.2,269.3 123.4,260.2 123.5,274.9 123.6,258.0 123.9,261.8 124.2,274.5 124.3,261.0 124.5,269.0 124.9,277.0 125.0,258.3 125.1,257.7 125.2,270.2 125.6,272.1 125.7,256.9 126.0,254.5 126.1,270.2 126.5,270.4 126.6,260.4 126.7,267.8 126.8,257.3 127.2,270.5 127.4,257.5 127.5,261.0 127.7,270.4 127.9,264.4 128.2,253.5 128.4,268.4 128.5,256.8 128.9,263.3 129.0,253.5 129.2,256.8 129.3,272.9 129.6,273.3 129.8,252.5 129.9,257.8 130.0,267.9 130.3,265.4 130.4,255.1 130.7,253.3 130.9,266.1 131.1,253.1 131.2,268.4 131.6,248.9 131.7,256.5 132.0,265.9 132.1,248.6 132.4,247.9 132.6,266.8 132.8,250.8 132.9,259.6 133.1,250.9 133.3,262.8 133.5,264.2 133.7,258.3 134.0,265.2 134.2,250.8 134.4,265.5 134.6,255.8 134.8,248.7 134.9,263.1 135.1,266.3 135.3,256.2 135.6,263.2 135.7,250.5 136.1,264.0 136.2,249.1 136.4,247.9 136.6,263.2 136.8,258.4 137.0,247.1 137.2,259.3 137.3,248.7 137.7,251.2 137.8,259.6 138.0,244.7 138.2,258.1 138.5,244.4 138.6,258.3 138.7,247.9 138.8,263.6 139.3,263.5 139.4,249.2 139.6,259.5 139.7,249.4 139.9,261.6 140.1,246.8 140.3,248.2 140.5,258.2 140.8,248.5 140.9,260.3 141.1,245.5 141.2,260.8 141.7,257.4 141.8,246.9 142.0,248.4 142.1,257.8 142.3,243.4 142.5,259.7 142.8,248.5 143.0,244.1 143.1,250.2 143.3,242.4 143.5,259.2 143.7,241.0 144.1,257.2 144.2,241.7 144.4,240.6 144.5,252.7 144.8,257.1 145.0,243.4 145.1,241.8 145.2,253.9 145.7,253.3 145.8,240.5 146.1,246.6 146.2,251.7 146.4,242.5 146.6,261.1 146.9,243.1 147.0,258.2 147.2,253.9 147.3,239.5 147.7,256.6 147.8,243.3 148.0,241.7 148.2,249.5 148.3,245.4 148.5,255.8 148.8,243.8 148.9,255.0 149.1,253.6 149.3,241.1 149.6,238.2 149.7,251.9 149.9,243.2 150.2,253.8 150.4,253.6 150.6,235.6 150.8,253.3 150.9,241.8 151.1,251.2 151.4,240.9 151.7,239.8 151.8,250.4 151.9,252.2 152.2,247.9 152.4,239.0 152.5,252.2 152.8,247.8 153.0,237.0 153.1,251.2 153.2,240.9 153.5,248.6 153.6,239.9 154.0,235.8 154.2,254.0 154.4,233.0 154.6,250.4 154.9,239.4 155.0,250.4 155.2,249.3 155.4,248.1 155.5,247.3 155.8,244.3 155.9,243.4 156.2,252.5 156.3,251.2 156.4,240.2 156.7,247.0 157.0,239.5 157.1,246.7 157.4,237.3 157.5,253.0 157.8,237.8 158.0,238.1 158.1,252.9 158.3,236.7 158.4,247.4 158.8,234.9 159.0,249.1 159.1,250.4 159.2,239.5 159.6,248.4 159.7,236.7 159.9,247.4 160.1,234.2 160.4,250.3 160.5,237.7 160.7,246.0 160.8,235.4 161.1,241.2 161.4,249.4 161.7,252.2 161.8,234.6 162.1,233.0 162.2,252.8 162.4,243.7 162.6,235.9 162.8,235.4 163.0,246.3 163.2,250.1 163.4,235.0 163.5,253.3 163.8,232.9 163.9,250.1 164.2,232.7 164.3,248.0 164.5,233.8 164.8,233.4 165.0,249.9 165.1,237.4 165.3,230.1 165.5,235.9 165.6,248.0 166.1,247.0 166.2,231.0 166.3,246.2 166.4,232.9 166.9,244.5 167.0,231.4 167.3,249.8 167.4,234.1 167.5,242.6 167.8,231.2 168.0,229.4 168.2,242.6 168.3,233.6 168.5,239.4 168.8,246.1 168.9,237.8 169.3,248.4 169.4,235.5 169.6,252.0 169.7,241.6 170.1,239.0 170.2,245.0 170.4,245.2 170.6,231.5 170.8,234.9 171.0,243.8 171.2,246.7 171.3,241.3 171.6,230.9 171.8,239.5 171.9,244.0 172.2,230.2 172.4,249.0 172.5,239.3 172.7,235.1 172.8,247.3 173.2,247.7 173.3,233.3 173.5,233.1 173.7,241.6 173.9,246.6 174.0,234.2 174.4,244.6 174.5,235.5 174.8,237.1 174.9,244.1 175.2,238.9 175.3,231.1 175.5,243.1 175.7,232.9 176.0,235.8 176.1,231.0 176.4,237.3 176.6,243.5 176.9,236.6 177.0,231.2 177.1,248.4 177.3,232.6 177.5,230.2 177.6,245.8 178.0,228.3 178.2,239.9 178.3,227.5 178.4,241.7 178.7,235.3 179.0,230.7 179.1,231.6 179.3,244.3 179.5,238.5 179.8,232.3 180.0,226.6 180.1,242.6 180.3,244.4 180.4,228.1 180.7,238.7 180.9,244.8 181.1,242.3 181.2,230.5 181.6,234.4 181.8,244.1 181.9,244.2 182.2,235.2 182.3,228.7 182.4,239.6 182.7,225.6 183.0,246.9 183.1,233.0 183.4,241.2 183.5,246.1 183.6,234.3 184.0,231.1 184.2,243.9 184.3,228.7 184.6,237.6 184.7,232.4 185.0,243.2 185.1,227.2 185.2,234.8 185.5,229.3 185.8,247.9 185.9,237.9 186.2,245.0 186.3,230.1 186.5,239.3 186.8,235.1 187.0,247.7 187.2,224.0 187.4,243.7 187.5,226.6 187.8,245.7 187.9,236.2 188.1,243.7 188.5,238.4 188.6,230.2 188.8,242.1 188.9,231.7 189.1,243.3 189.2,225.3 189.5,243.3 189.7,227.8 190.0,243.3 190.1,233.0 190.3,231.5 190.6,240.1 190.8,244.2 190.9,233.6 191.3,236.5 191.4,229.9 191.6,231.0 191.8,243.2 192.0,245.2 192.1,238.7 192.5,244.4 192.6,225.9 192.8,240.3 193.0,233.7 193.3,242.4 193.4,230.2 193.6,244.0 193.7,235.9 194.1,246.5 194.2,228.7 194.3,228.5 194.4,242.8 194.8,245.2 194.9,230.0 195.2,238.2 195.3,229.7 195.7,226.5 195.8,241.1 195.9,247.5 196.1,233.3 196.3,232.7 196.5,243.9 196.7,223.3 196.8,238.0 197.2,230.8 197.4,245.5 197.6,236.0 197.7,226.4 198.1,242.9 198.2,225.8 198.4,229.4 198.6,235.5 198.7,243.6 198.9,235.9 199.2,230.9 199.3,242.4 199.7,225.8 199.8,241.8 199.9,227.7 200.2,236.2 200.5,227.9 200.6,239.7 200.8,243.0 200.9,228.1 201.2,229.6 201.3,237.9 201.5,231.9 201.6,247.8 202.1,241.7 202.2,224.9 202.3,228.5 202.6,244.4 202.7,226.7 203.0,243.9 203.2,243.4 203.4,239.9 203.6,242.9 203.7,225.5 204.0,241.1 204.1,229.6 204.5,244.3 204.6,226.6 204.8,244.2 204.9,227.9 205.1,228.7 205.3,234.2 205.6,233.6 205.8,244.4 206.0,231.1 206.2,241.2 206.3,247.2 206.4,231.4 206.8,236.6 206.9,243.3 207.1,239.2 207.4,230.0 207.5,243.1 207.7,229.8 208.0,248.0 208.1,229.0 208.5,245.7 208.6,229.7 208.8,236.1 209.0,243.2 209.3,241.7 209.4,226.0 209.5,224.6 209.8,243.1 210.0,246.1 210.2,225.1 210.3,243.4 210.5,235.0 210.7,227.5 210.9,241.4 211.2,242.6 211.4,235.0 211.5,235.8 211.7,243.3 212.0,225.0 212.1,241.2 212.4,239.6 212.6,229.1 212.8,244.5 213.0,229.6 213.2,241.8 213.4,229.6 213.5,228.6 213.7,241.0 214.1,235.0 214.2,244.0 214.4,233.3 214.6,244.4 214.9,224.9 215.0,241.3 215.1,229.4 215.3,245.1 215.7,231.7 215.8,238.3 215.9,226.5 216.0,239.6 216.4,238.5 216.6,232.7 216.7,245.7 216.8,229.5 217.1,246.2 217.4,231.1 217.5,226.3 217.6,244.9 218.0,238.7 218.2,225.5 218.4,228.1 218.6,241.6 218.8,243.6 219.0,236.7 219.2,231.5 219.4,246.4 219.5,244.5 219.7,231.0 220.0,229.5 220.2,240.5 220.3,230.9 220.6,235.6 220.8,245.1 220.9,233.3 221.2,242.9 221.4,226.7 221.7,242.3 221.8,230.9 221.9,248.1 222.1,227.6 222.3,240.0 222.4,227.6 222.8,231.3 223.0,228.7 223.2,248.0 223.3,233.8 223.5,230.6 223.6,246.1 224.0,234.8 224.1,246.5 224.3,231.1 224.4,243.0 224.8,237.2 224.9,243.6 225.3,228.2 225.4,239.4 225.5,234.5 225.7,239.3 226.1,230.5 226.2,244.1 226.3,228.8 226.4,242.4 226.8,245.0 227.0,230.1 227.2,233.3 227.4,244.7 227.6,233.0 227.8,244.4 227.9,242.2 228.1,232.8 228.5,231.3 228.6,247.5 228.9,236.2 229.0,245.5 229.3,247.7 229.4,231.1 229.5,231.4 229.8,244.6 229.9,229.9 230.2,242.3 230.5,232.0 230.6,246.4 230.9,228.8 231.0,245.1 231.1,231.9 231.4,248.0 231.5,244.2 231.6,228.1 232.0,232.3 232.2,245.0 232.5,231.3 232.6,246.8 232.9,237.8 233.0,233.2 233.2,231.2 233.4,244.6 233.7,230.8 233.8,241.5 234.1,234.6 234.2,248.0 234.4,230.5 234.6,248.8 234.8,232.2 234.9,244.3 235.1,231.6 235.3,240.9 235.5,230.0 235.8,235.7 235.9,239.5 236.2,230.7 236.4,251.7 236.6,231.2 236.7,234.2 236.8,249.2 237.2,249.4 237.3,229.1 237.5,249.4 237.7,231.5 238.0,231.8 238.2,246.4 238.4,241.2 238.6,232.5 238.7,230.9 238.9,244.5 239.3,233.7 239.4,251.2 239.6,238.2 239.7,246.2 240.0,248.6 240.1,234.3 240.3,252.5 240.4,231.0 240.7,233.9 240.8,246.5 241.2,234.8 241.3,230.3 241.6,251.3 241.8,236.5 242.0,249.0 242.2,240.2 242.5,245.1 242.6,232.7 242.7,244.0 242.9,238.5 243.2,248.4 243.4,233.1 243.6,249.4 243.8,237.0 244.1,237.6 244.2,231.4 244.3,233.9 244.6,247.6 244.7,231.1 244.8,246.0 245.2,249.6 245.4,234.6 245.7,245.4 245.8,234.4 245.9,245.0 246.1,240.0 246.4,246.6 246.6,235.0 246.9,234.4 247.0,243.2 247.1,237.7 247.2,252.2 247.7,241.8 247.8,237.5 248.0,239.6 248.2,251.5 248.3,232.1 248.6,251.3 248.7,236.0 248.9,246.6 249.2,235.2 249.3,243.0 249.7,231.1 249.8,242.0 249.9,253.3 250.2,236.4 250.3,237.6 250.4,253.1 250.7,234.8 250.8,252.9 251.2,242.4 251.4,235.4 251.5,232.3 251.6,248.4 251.9,249.9 252.1,241.3 252.3,249.8 252.4,236.6 252.7,235.2 253.0,244.2 253.3,249.1 253.4,233.0 253.6,246.2 253.7,236.9 254.0,245.7 254.1,239.0 254.4,253.7 254.6,237.8 254.9,238.3 255.0,250.5 255.1,249.8 255.4,239.6 255.5,235.5 255.6,251.0 256.0,251.5 256.1,238.1 256.4,254.6 256.5,248.1 256.8,250.8 257.0,238.8 257.2,251.5 257.4,238.0 257.5,251.4 257.7,241.7 258.1,253.8 258.2,247.6 258.5,253.9 258.6,239.9 258.8,240.3 259.0,254.7 259.3,254.2 259.4,239.6 259.6,249.0 259.8,239.8 259.9,257.0 260.2,237.6 260.4,255.1 260.6,243.4 260.9,254.4 261.0,241.1 261.2,256.7 261.4,241.4 261.5,255.4 261.8,249.1 261.9,253.3 262.1,239.2 262.4,237.5 262.5,254.2 262.7,247.0 262.8,238.4 263.2,254.8 263.3,246.1 263.6,255.3 263.7,247.9 263.9,242.5 264.0,257.0 264.3,257.6 264.4,239.3 264.7,240.1 265.0,256.0 265.1,249.6 265.4,254.7 265.6,247.5 265.8,253.6 266.0,255.3 266.1,241.2 266.3,258.3 266.5,244.3 266.8,242.9 266.9,253.3 267.2,242.3 267.4,255.8 267.6,243.5 267.8,255.7 268.0,246.0 268.2,252.5 268.3,243.4 268.4,257.0 268.7,254.2 268.9,242.7 269.3,243.1 269.4,249.2 269.5,242.0 269.6,256.0 269.9,252.6 270.0,245.9 270.3,256.7 270.4,247.7 270.7,256.8 270.8,250.6 271.2,252.5 271.3,247.4 271.6,248.2 271.7,255.3 272.0,245.8 272.1,260.7 272.4,260.9 272.5,244.5 272.7,244.2 272.9,254.2 273.1,261.4 273.2,248.4 273.6,258.7 273.7,248.7 273.9,258.5 274.2,246.5 274.3,255.1 274.5,260.3 274.8,251.6 274.9,264.9 275.1,251.2 275.3,265.2 275.7,243.8 275.8,262.6 276.0,263.5 276.1,248.6 276.4,263.7 276.5,247.5 276.8,263.4 277.0,248.4 277.1,264.5 277.3,244.3 277.5,259.0 277.8,255.7 278.0,244.2 278.1,261.2 278.5,261.5 278.6,247.6 278.9,256.0 279.0,264.7 279.2,261.8 279.4,254.0 279.6,248.1 279.8,264.3 280.0,251.1 280.1,265.0 280.5,250.2 280.6,258.2 280.7,254.3 280.9,247.9 281.1,264.9 281.3,245.7 281.5,263.8 281.7,249.2 282.0,248.0 282.1,264.6 282.4,263.2 282.6,250.1 282.8,265.3 283.0,250.5 283.1,258.0 283.4,265.8 283.5,263.6 283.7,253.5 284.0,260.7 284.2,251.4 284.4,268.3 284.5,251.8 284.7,254.3 285.0,266.5 285.2,251.8 285.3,270.8 285.5,253.8 285.6,272.4 286.1,264.0 286.2,251.5 286.5,266.6 286.6,253.9 286.8,254.1 286.9,266.0 287.1,257.6 287.2,267.6 287.6,262.2 287.7,253.1 288.0,269.2 288.1,259.6 288.3,253.6 288.5,267.2 288.9,267.4 289.0,256.3 289.1,252.7 289.4,269.1 289.7,257.6 289.8,272.9 289.9,269.4 290.1,254.5 290.4,256.0 290.5,268.9 290.7,268.3 290.9,262.0 291.1,259.6 291.2,270.0 291.5,253.9 291.7,269.3 291.9,271.1 292.2,258.7 292.3,255.9 292.5,266.8 292.7,275.5 292.8,256.4 293.1,266.1 293.2,256.7 293.6,257.8 293.7,271.8 293.9,253.9 294.2,268.2 294.5,276.3 294.6,262.2 294.8,271.2 295.0,258.1 295.1,257.6 295.4,273.0 295.6,274.6 295.7,259.3 296.1,272.1 296.2,275.3 296.5,257.2 296.6,272.3 296.9,277.2 297.0,264.3 297.2,271.2 297.4,260.3 297.5,261.7 297.8,276.2 297.9,256.5 298.0,275.2 298.4,260.6 298.5,269.6 298.8,257.4 298.9,279.3 299.1,268.2 299.4,279.5 299.5,278.5 299.8,269.3 300.0,266.7 300.2,277.6 300.4,265.8 300.6,261.0 300.7,271.6 300.8,279.5 301.2,268.6 301.3,274.0 301.5,276.6 301.8,265.3 302.0,263.4 302.2,274.1 302.4,263.4 302.5,276.4 302.7,261.1 302.9,279.2 303.2,262.0 303.4,279.0 303.5,283.2 303.8,269.7 304.1,274.3 304.2,278.0 304.5,268.5 304.6,281.2 304.7,264.8 304.8,275.5 305.2,264.8 305.3,279.3 305.7,266.0 305.8,282.4 306.0,266.8 306.1,278.9 306.4,262.6 306.6,279.8 306.8,267.3 307.0,284.1 307.2,274.9 307.3,285.0 307.5,268.0 307.8,284.6 307.9,286.2 308.1,269.7 308.3,270.8 308.4,285.6 308.7,265.6 308.8,285.7 309.2,270.6 309.4,287.5 309.6,275.2 309.8,289.1 309.9,283.9 310.1,286.6 310.4,283.5 310.5,271.7 310.7,268.2 311.0,279.8 311.1,277.9 311.3,285.8 311.5,269.9 311.6,277.2 311.9,270.9 312.1,287.4 312.3,271.3 312.6,287.9 312.8,272.1 312.9,287.1 313.1,273.5 313.2,287.8 313.6,280.6 313.7,288.6 314.1,287.4 314.2,271.4 314.3,280.2 314.5,272.0 314.9,287.2 315.0,274.6 315.1,278.2 315.2,281.7 315.7,293.4 315.8,281.7 315.9,275.2 316.2,291.1 316.3,284.8 316.5,276.1 316.8,280.1 316.9,290.4 317.3,290.8 317.4,273.0 317.6,274.2 317.8,286.5 318.0,282.5 318.2,291.3 318.3,295.7 318.5,280.0 318.9,291.8 319.0,287.1 319.2,288.8 319.4,276.7 319.5,278.5 319.8,291.5 319.9,282.9 320.2,291.0 320.4,277.2 320.6,292.7 320.7,286.5 320.8,295.3 321.2,285.6 321.3,298.6 321.6,284.0 321.7,296.6 321.9,294.2 322.0,297.3 322.5,287.1 322.6,282.7 322.7,290.8 322.8,285.0 323.2,302.3 323.3,283.2 323.6,280.4 323.7,303.6 324.0,285.5 324.1,296.0 324.4,296.5 324.6,301.3 324.9,282.0 325.0,302.6 325.3,286.3 325.4,298.4 325.7,285.6 325.8,300.8 326.1,301.8 326.2,289.5 326.4,297.9 326.5,287.9 326.8,301.9 326.9,288.7 327.3,289.6 327.4,298.5 327.5,287.2 327.7,303.2 327.9,301.1 328.0,291.0 328.3,303.4 328.6,286.1 328.8,300.0 328.9,289.0 329.2,300.1 329.4,292.7 329.7,299.9 329.8,305.3 330.0,298.1 330.2,310.2 330.4,289.0 330.6,302.4 330.8,292.8 330.9,296.3 331.1,297.2 331.4,308.5 331.5,292.0 331.6,304.0 331.9,310.0 332.1,297.7 332.5,310.8 332.6,297.6 332.8,296.3 333.0,313.0 333.2,298.9 333.3,295.8 333.5,296.2 333.6,310.8 333.9,304.4 334.0,308.6 334.3,312.2 334.4,305.8 334.9,301.4 335.0,318.2 335.1,294.7 335.3,309.0 335.6,297.8 335.7,313.8 336.0,305.3 336.2,308.0 336.3,314.5 336.5,304.4 336.7,300.6 337.0,317.5 337.1,300.5 337.4,319.1 337.7,300.5 337.8,308.2 337.9,301.9 338.2,315.3 338.3,306.7 338.6,320.0 338.7,320.9 338.9,305.3 339.2,320.7 339.3,304.3 339.6,317.4 339.7,307.8 339.9,308.9 340.2,320.5 340.3,309.7 340.6,319.8 340.8,313.4 341.0,302.9 341.3,321.3 341.4,314.6 341.5,311.6 341.8,323.0 341.9,324.0 342.1,310.3 342.4,315.4 342.6,308.7 342.7,318.7 343.0,309.1 343.1,313.8 343.3,327.5 343.7,324.6 343.8,310.1 344.0,317.6 344.1,327.6 344.3,311.3 344.5,326.2 344.7,312.2 345.0,330.9 345.2,319.8 345.4,314.4 345.6,316.1 345.8,324.7 345.9,310.6 346.0,327.7 346.4,319.4 346.6,331.2 346.7,317.1 346.8,325.8 347.3,315.4 347.4,328.8 347.6,334.1 347.8,320.2 348.0,325.7 348.2,318.8 348.3,335.4 348.5,324.3 348.7,333.0 348.8,324.0 349.1,330.7 349.3,319.7 349.5,322.1 349.7,328.9 349.9,320.6 350.2,331.7 350.3,325.6 350.6,334.4 350.7,335.1 350.8,339.8 351.1,335.4 351.4,322.3 351.6,334.0 351.7,332.6 351.9,342.7 352.0,325.3 352.4,326.0 352.5,338.4 352.8,323.3 353.0,331.0 353.1,342.4 353.2,334.3 353.6,339.4 353.7,328.8 353.9,343.0 354.0,329.4 354.3,343.9 354.6,331.7 354.7,341.6 354.8,334.4 355.1,341.2 355.3,331.2 355.6,351.5 355.7,346.6 355.9,349.2 356.1,341.8 356.3,334.0 356.5,348.2 356.8,348.8 356.9,332.6 357.2,339.9 357.3,355.1 357.5,349.9 357.6,335.3 358.1,346.1 358.2,352.2 358.5,354.8 358.6,343.9 358.8,354.4 358.9,342.8 359.3,339.4 359.4,352.3 359.7,342.8 359.8,357.8 360.1,361.3 360.2,344.3 360.3,343.7 360.5,357.5 360.8,353.9 361.0,339.9 361.1,359.4 361.4,351.1 361.5,346.6 361.8,350.7 361.9,362.1 362.2,352.6 362.3,365.2 362.4,347.7 362.9,363.4 363.0,347.7 363.1,353.7 363.4,364.2 363.7,364.6 363.8,351.8 363.9,366.3 364.1,349.0 364.4,358.1 364.6,365.6 364.7,352.5 364.8,372.5 365.3,355.9 365.4,367.7 365.5,365.4 365.8,371.1 365.9,354.7 366.0,369.3 366.3,359.7 366.4,370.9 366.7,370.7 366.8,362.0 367.1,365.4 367.2,378.6 367.6,372.6 367.8,364.9 368.0,378.4 368.2,363.4 368.4,364.7 368.5,382.6 368.7,369.1 369.0,376.6 369.1,382.9 369.2,367.9 369.5,380.9 369.6,364.5 369.9,385.0 370.1,368.1 370.3,388.2 370.5,372.0 370.8,369.4 371.0,387.9 371.2,371.2 371.4,384.5 371.6,373.0 371.8,386.5 372.0,387.8 372.1,378.8 372.4,392.8 372.6,384.8 372.7,383.2 373.0,389.0 373.1,394.1 373.3,381.6 373.5,382.4 373.8,393.3 373.9,392.7 374.0,399.2 374.4,385.0 374.5,402.7 374.7,390.9 374.8,399.3 375.1,395.5 375.4,392.0 375.6,404.8 375.7,391.8 376.0,396.9 376.1,390.8 376.3,400.0 376.5,409.6 376.7,396.7 377.0,412.6 377.3,399.1 377.4,410.9 377.5,393.2 377.7,416.8 378.1,397.1 378.2,410.3 378.5,400.9 378.6,411.9 378.8,419.0 379.0,409.6 379.2,411.8 379.4,419.5 379.6,421.9 379.8,408.7 380.1,418.8 380.2,423.3 380.4,410.6 380.5,430.1 380.8,431.7 380.9,410.1 381.1,430.6 381.4,417.2 381.5,420.0 381.6,428.4 382.1,424.6 382.2,433.3 382.4,428.3 382.6,437.3 382.7,422.4 382.8,441.1 383.1,436.6 383.2,426.0 383.6,425.1 383.8,439.5 383.9,433.7 384.2,444.7 384.3,450.0 384.5,432.5 384.9,444.5 385.0,437.6 385.1,444.0 385.3,454.6 385.7,456.3 385.8,443.3 385.9,447.6 386.2,461.2 386.4,452.1 386.5,460.0 386.8,450.0 387.0,466.4 387.2,467.6 387.4,454.6 387.6,471.3 387.7,458.4 388.0,464.5 388.1,472.6 388.5,463.9 388.6,485.0 388.7,484.5 389.0,472.6 389.1,471.0 389.3,488.7 389.6,475.9 389.7,489.1 389.9,481.9 390.1,496.7 390.3,491.3 390.5,486.3 390.8,492.2 391.0,511.4 391.1,491.4 391.4,512.4 391.5,507.9 391.8,510.9 392.1,510.1 392.2,524.7 392.4,515.6 392.5,527.2 392.9,520.6 393.0,536.5 393.3,528.4 393.4,544.9 393.6,535.8 393.8,550.6 394.0,546.3 394.2,566.6 394.3,553.4 394.6,576.7 394.8,584.7 395.0,574.1 395.1,586.8 395.3,600.8 395.6,603.6 395.8,622.0 396.0,620.1 396.2,644.9 396.3,638.6 396.6,677.6 396.8,687.2 397.0,730.5 397.1,745.0 397.4,791.0 397.5,791.0 397.8,761.3 397.9,750.5 398.2,687.5 398.3,690.1 398.5,655.6 398.7,650.0 398.9,630.8 399.1,621.8 399.2,610.3 399.5,613.7 399.8,593.9 399.9,595.3 400.0,577.2 400.4,580.2 400.5,564.8 400.7,568.4 400.8,549.1 401.1,555.5 401.2,546.1 401.5,545.5 401.7,531.6 401.9,544.4 402.2,524.9 402.4,532.3 402.6,517.7 402.7,516.3 402.8,520.1 403.1,524.2 403.4,508.5 403.5,517.8 403.6,500.9 404.1,497.7 404.2,511.1 404.3,494.5 404.6,490.3 404.7,489.5 405.0,499.6 405.2,490.9 405.4,479.9 405.7,474.9 405.8,486.7 405.9,490.1 406.2,471.6 406.4,464.7 406.5,484.3 406.8,482.6 406.9,465.8 407.3,467.7 407.4,477.1 407.7,472.2 407.8,454.7 407.9,469.9 408.2,457.1 408.3,453.0 408.5,467.5 408.8,448.9 409.0,460.8 409.3,456.3 409.4,447.2 409.6,458.0 409.8,447.3 410.0,454.2 410.2,439.0 410.3,449.0 410.6,438.5 410.8,440.8 411.0,451.2 411.1,449.6 411.4,442.8 411.6,441.3 411.7,433.2 412.0,427.5 412.2,446.6 412.3,442.4 412.4,432.9 412.7,435.7 412.8,431.6 413.1,437.8 413.4,424.8 413.6,433.4 413.8,425.9 413.9,419.6 414.2,432.8 414.3,431.9 414.4,416.0 414.7,429.2 414.9,415.4 415.1,422.3 415.4,413.9 415.5,424.9 415.8,415.3 415.9,413.8 416.2,424.8 416.3,409.7 416.5,417.2 416.7,415.3 416.9,405.3 417.1,414.2 417.4,400.3 417.6,408.0 417.8,402.7 418.0,417.8 418.2,398.8 418.3,405.5 418.6,412.4 418.8,393.1 418.9,410.8 419.1,407.2 419.3,392.9 419.5,400.6 419.6,411.8 419.9,395.2 420.2,410.1 420.3,396.6 420.4,411.5 420.7,388.0 420.8,405.1 421.2,403.8 421.4,388.0 421.5,389.1 421.7,402.6 421.9,389.8 422.2,385.2 422.3,399.7 422.6,389.5 422.7,396.6 422.9,380.1 423.1,382.4 423.3,390.9 423.6,390.0 423.7,383.0 423.9,384.9 424.0,381.5 424.3,381.2 424.4,388.3 424.8,378.8 424.9,386.3 425.2,381.9 425.4,389.6 425.6,386.3 425.7,378.9 426.0,383.7 426.2,373.6 426.4,391.0 426.6,369.2 426.8,387.6 426.9,371.1 427.1,372.3 427.3,385.7 427.5,370.0 427.7,379.6 428.1,384.8 428.2,365.7 428.3,380.0 428.4,371.0 428.7,364.9 429.0,378.9 429.2,375.1 429.4,364.8 429.6,367.8 429.8,383.5 430.0,362.0 430.1,374.9 430.3,369.1 430.5,359.6 430.8,359.7 430.9,377.7 431.3,361.6 431.4,365.7 431.7,378.2 431.8,359.8 431.9,361.1 432.0,372.8 432.3,362.0 432.5,372.8 432.7,364.9 432.9,375.6 433.1,364.7 433.3,351.7 433.5,365.9 433.7,359.9 434.1,354.3 434.2,367.5 434.3,366.0 434.6,359.9 434.7,364.5 435.0,353.5 435.1,371.0 435.3,351.0 435.5,359.1 435.6,364.2 436.0,353.5 436.1,364.4 436.3,365.8 436.4,350.4 436.7,365.8 436.9,352.0 437.2,345.1 437.4,358.3 437.7,349.5 437.8,363.5 438.1,348.5 438.2,343.8 438.3,360.4 438.6,348.0 438.8,351.6 438.9,361.5 439.1,358.9 439.4,344.0 439.6,354.5 439.7,347.4 440.0,360.4 440.2,345.9 440.3,348.1 440.5,356.5 440.7,340.4 440.8,356.1 441.1,341.6 441.2,350.3 441.5,350.7 441.8,337.8 442.0,357.2 442.1,341.4 442.3,338.7 442.6,345.5 442.7,349.3 442.9,336.4 443.3,336.8 443.4,349.5 443.5,347.6 443.7,340.1 444.0,350.0 444.2,331.7 444.3,352.5 444.4,344.4 444.7,341.1 445.0,344.3 445.2,337.8 445.3,347.9 445.5,333.7 445.7,348.3 446.1,342.6 446.2,330.9 446.3,349.6 446.6,330.4 446.8,337.4 447.0,333.0 447.2,332.9 447.3,345.7 447.5,331.9 447.6,347.5 447.9,333.4 448.2,338.0 448.3,343.6 448.5,340.1 448.7,338.4 449.0,327.0 449.1,335.5 449.2,346.0 449.6,337.3 449.8,341.7 449.9,325.3 450.1,345.2 450.3,337.1 450.4,327.0 450.8,344.0 451.0,327.8 451.1,343.8 451.2,332.2 451.5,335.3 451.8,325.1 452.0,325.7 452.2,343.6 452.4,341.7 452.5,324.9 452.7,321.1 452.9,330.9 453.2,341.4 453.3,324.6 453.6,322.0 453.8,330.2 454.1,325.9 454.2,336.4 454.4,332.1 454.6,321.9 454.7,335.6 454.8,330.2 455.3,321.0 455.4,333.4 455.5,321.9 455.7,334.3 456.1,331.1 456.2,319.6 456.3,320.9 456.5,337.4 456.7,331.8 457.0,317.0 457.2,330.4 457.4,323.6 457.6,316.3 457.7,329.8 457.9,321.2 458.0,332.9 458.4,315.7 458.5,333.8 458.8,317.9 458.9,335.7 459.2,315.2 459.4,335.0 459.6,325.6 459.8,333.4 459.9,319.0 460.1,328.5 460.3,333.5 460.4,319.9 460.7,320.2 460.8,326.9 461.1,318.7 461.3,333.5 461.5,329.2 461.7,319.0 461.9,322.6 462.2,309.4 462.4,316.2 462.5,326.0 462.7,323.9 463.0,310.3 463.2,314.2 463.4,327.5 463.5,328.2 463.8,319.0 464.0,310.5 464.1,320.0 464.5,330.0 464.6,315.9 464.7,310.0 464.9,327.7 465.1,320.8 465.2,308.1 465.7,313.9 465.8,325.9 465.9,326.4 466.2,313.5 466.3,321.0 466.4,311.9 466.7,320.0 467.0,307.0 467.1,308.3 467.4,317.7 467.5,306.9 467.7,322.6 468.0,319.5 468.2,308.0 468.4,310.6 468.5,318.7 468.7,307.2 468.9,323.3 469.1,305.9 469.3,323.2 469.6,304.9 469.7,316.4 470.0,319.6 470.1,305.1 470.4,305.1 470.5,314.5 470.7,310.4 471.0,315.8 471.1,318.7 471.2,300.6 471.6,323.3 471.8,317.4 472.1,317.7 472.2,306.8 472.3,313.5 472.4,316.4 472.7,319.3 472.8,308.7 473.1,300.3 473.4,307.3 473.6,305.1 473.7,313.7 473.9,313.6 474.2,307.1 474.3,306.3 474.5,320.3 474.8,299.5 475.0,315.9 475.2,317.5 475.4,302.8 475.7,313.7 475.8,304.0 475.9,304.5 476.2,311.0 476.3,307.7 476.4,313.7 476.9,315.7 477.0,304.8 477.1,301.0 477.3,318.7 477.5,299.2 477.7,314.8 478.1,301.7 478.2,310.3 478.3,300.7 478.5,315.0 478.7,315.1 479.0,303.5 479.2,312.8 479.4,298.5 479.5,303.6 479.7,314.0 479.9,305.5 480.2,299.8 480.4,299.9 480.6,307.6 480.9,296.3 481.0,311.1 481.2,311.2 481.3,299.8 481.5,304.5 481.6,315.4 482.0,301.2 482.2,309.7 482.4,310.2 482.6,301.4 482.8,306.1 482.9,299.8 483.1,306.1 483.3,300.6 483.6,310.5 483.7,294.3 483.9,312.2 484.2,295.1 484.3,301.9 484.5,298.7 484.8,298.6 485.0,304.6 485.1,309.6 485.2,297.3 485.5,294.2 485.7,304.9 485.9,292.0 486.0,310.8 486.3,310.5 486.6,291.8 486.7,313.4 486.8,303.1 487.1,311.0 487.3,304.5 487.5,297.7 487.7,303.6 487.9,300.7 488.0,296.8 488.4,289.1 488.5,301.4 488.7,309.6 488.9,295.7 489.1,306.5 489.3,298.1 489.6,303.6 489.7,295.9 489.9,290.8 490.0,305.6 490.4,296.3 490.6,307.5 490.8,287.5 490.9,304.6 491.1,301.5 491.3,290.4 491.6,293.1 491.7,304.7 492.0,308.0 492.2,295.7 492.4,307.5 492.6,293.2 492.7,291.3 493.0,304.1 493.2,289.9 493.4,303.5 493.7,291.7 493.8,298.9 493.9,306.6 494.1,292.5 494.4,304.8 494.6,298.8 494.7,294.0 495.0,307.9 495.3,295.1 495.4,303.6 495.5,306.2 495.7,285.8 495.9,291.4 496.1,301.6 496.3,305.4 496.6,292.4 496.7,300.9 496.9,294.5 497.1,294.0 497.3,305.7 497.6,293.1 497.8,301.1 497.9,307.4 498.0,285.7 498.3,287.1 498.5,301.3 498.7,305.2 498.9,289.3 499.2,296.8 499.3,287.3 499.5,291.2 499.7,303.2 499.9,301.2 500.0,296.3 500.5,290.1 500.6,291.9 500.8,297.9 501.0,287.6 501.1,291.1 501.2,298.7 501.6,287.3 501.8,298.2 501.9,296.2 502.1,289.0 502.4,287.8 502.6,303.6 502.7,293.9 503.0,303.1 503.1,283.9 503.4,295.1 503.5,289.2 503.6,299.8 503.9,290.0 504.2,300.6 504.5,303.5 504.6,287.8 504.7,301.4 504.8,286.5 505.1,305.1 505.4,290.0 505.6,288.1 505.7,300.4 505.9,302.7 506.1,286.2 506.3,297.5 506.5,287.2 506.8,284.7 506.9,299.8 507.2,291.0 507.3,298.9 507.7,287.3 507.8,303.5 508.1,283.5 508.2,295.4 508.3,289.3 508.5,301.8 508.7,302.0 508.8,285.4 509.3,299.7 509.4,291.4 509.6,288.7 509.8,297.9 510.0,290.7 510.2,283.0 510.3,300.0 510.5,286.4 510.9,295.6 511.0,281.6 511.3,290.6 511.4,302.8 511.5,281.7 511.7,300.6 511.9,284.1 512.2,294.2 512.4,301.2 512.5,289.6 512.8,284.9 513.0,287.9 513.2,303.2 513.3,281.1 513.7,284.5 513.8,299.1 513.9,290.6 514.1,302.3 514.3,283.0 514.5,293.6 514.7,282.3 514.8,296.7 515.1,298.5 515.3,284.2 515.5,285.7 515.7,296.9 515.9,295.2 516.0,287.8 516.4,295.7 516.5,285.4 516.8,290.8 517.0,284.0 517.1,297.6 517.2,284.6 517.6,281.8 517.7,297.4 517.9,289.1 518.0,296.3 518.5,282.3 518.6,297.1 518.7,279.3 519.0,298.9 519.1,282.2 519.4,295.1 519.5,299.9 519.7,282.4 519.9,285.5 520.0,296.6 520.3,282.4 520.5,289.9 520.9,289.6 521.0,281.6 521.1,280.4 521.3,298.6 521.5,285.9 521.6,295.9 521.9,294.6 522.2,283.1 522.3,299.3 522.4,280.3 522.9,300.7 523.0,291.6 523.1,293.8 523.4,280.7 523.6,285.8 523.8,299.3 524.0,291.8 524.1,278.4 524.4,288.5 524.5,299.2 524.9,294.8 525.0,280.5 525.2,292.0 525.3,279.9 525.5,294.3 525.8,282.6 526.0,292.5 526.1,285.0 526.4,291.6 526.6,285.3 526.8,298.3 527.0,291.0 527.1,297.6 527.3,287.6 527.5,281.6 527.7,295.6 527.9,280.3 528.0,297.9 528.3,291.9 528.5,287.3 528.9,279.2 529.0,299.9 529.1,279.1 529.4,299.5 529.5,295.7 529.8,281.4 530.0,293.5 530.1,282.8 530.3,294.4 530.5,281.4 530.9,281.8 531.0,297.5 531.3,292.5 531.4,281.2 531.5,297.6 531.8,282.2 531.9,298.1 532.2,283.5 532.3,297.0 532.4,280.3 532.7,278.4 532.9,292.8 533.3,295.9 533.4,278.5 533.5,297.1 533.6,284.0 533.9,294.9 534.0,282.7 534.3,281.0 534.5,295.2 534.8,287.4 534.9,296.3 535.1,290.5 535.2,296.1 535.6,286.4 535.8,282.0 535.9,278.1 536.2,294.1 536.4,285.8 536.5,292.2 536.9,280.8 537.0,291.2 537.2,293.8 537.4,279.8 537.5,293.5 537.6,281.8 537.9,277.7 538.1,291.0 538.4,278.1 538.5,286.2 538.7,284.0 539.0,290.6 539.2,282.0 539.4,293.5 539.5,276.6 539.6,297.4 539.9,280.5 540.2,294.4 540.5,289.9 540.6,278.1 540.7,292.9 540.8,282.0 541.1,292.3 541.4,276.9 541.6,279.6 541.7,290.5 542.1,291.5 542.2,278.9 542.3,280.2 542.5,289.6 542.7,287.4 543.0,294.5 543.2,278.8 543.4,291.4 543.5,295.7 543.8,279.5 544.1,279.5 544.2,293.3 544.5,281.9 544.6,287.6 544.7,279.5 544.9,283.9 545.1,294.2 545.3,282.1 545.5,294.2 545.7,282.5 546.1,280.3 546.2,297.2 546.3,292.5 546.4,279.7 546.8,287.2 546.9,280.8 547.1,296.2 547.4,286.7 547.6,279.5 547.8,296.3 547.9,280.3 548.2,297.5 548.3,295.0 548.4,280.9 548.9,285.1 549.0,295.2 549.1,292.3 549.2,280.3 549.6,290.9 549.7,293.3 550.0,290.2 550.1,284.2 550.4,296.0 550.6,277.7 550.8,294.4 550.9,298.6 551.2,295.3 551.4,289.0 551.5,282.2 551.8,298.7 552.0,285.6 552.2,281.1 552.3,294.1 552.4,276.0 552.9,293.2 553.0,282.5 553.1,279.8 553.4,291.8 553.7,279.2 553.8,296.0 553.9,297.0 554.0,286.7 554.3,281.3 554.5,292.8 554.7,281.0 555.0,294.6 555.1,282.5 555.4,288.0 555.5,300.6 555.6,290.1 556.0,289.3 556.1,281.6 556.3,282.9 556.5,293.7 556.7,294.2 556.9,282.4 557.1,287.5 557.3,278.8 557.7,292.5 557.8,282.5 557.9,281.0 558.2,300.7 558.3,295.6 558.6,278.0 558.7,284.6 558.8,292.8 559.1,281.3 559.4,291.3 559.5,282.3 559.7,292.4 560.0,283.3 560.1,293.3 560.3,297.0 560.4,283.0 560.7,284.3 561.0,295.7 561.1,290.9 561.3,282.6 561.7,294.1 561.8,282.2 562.0,293.4 562.1,288.7 562.4,300.4 562.6,279.3 562.7,278.1 562.9,295.9 563.1,290.8 563.3,286.7 563.5,296.0 563.8,283.4 564.0,298.7 564.1,284.1 564.5,297.7 564.6,287.5 564.8,286.5 564.9,297.5 565.3,293.0 565.4,297.5 565.6,281.2 565.7,293.0 566.0,284.0 566.2,292.5 566.3,286.0 566.4,300.2 566.9,283.4 567.0,291.3 567.3,280.4 567.4,294.5 567.7,300.7 567.8,282.4 567.9,291.5 568.1,301.0 568.3,291.0 568.4,283.3 568.9,295.6 569.0,279.2 569.1,296.5 569.4,284.1 569.6,289.4 569.7,284.8 570.1,283.2 570.2,292.1 570.3,287.0 570.4,292.5 570.7,285.6 571.0,297.0 571.1,298.6 571.2,282.3 571.6,300.1 571.7,286.5 572.1,283.3 572.2,300.7 572.4,294.2 572.6,285.1 572.7,286.0 572.9,292.0 573.2,297.6 573.3,285.0 573.6,300.7 573.7,291.1 574.0,289.0 574.1,299.8 574.4,295.4 574.6,287.4 574.7,302.8 574.9,281.0 575.1,283.8 575.2,303.0 575.5,301.5 575.8,282.5 575.9,293.9 576.2,305.0 576.3,299.1 576.4,289.7 576.7,294.4 577.0,288.9 577.2,304.5 577.4,282.9 577.7,287.4 577.8,299.0 578.0,293.4 578.2,287.5 578.3,284.9 578.4,302.5 578.8,302.8 578.9,293.8 579.1,291.4 579.3,301.3 579.5,303.6 579.8,284.5 580.0,286.8 580.2,303.6 580.3,295.3 580.4,301.7 580.7,298.0 580.8,289.9 581.1,299.2 581.3,287.4 581.5,295.8 581.6,300.5 581.9,303.1 582.0,283.8 582.3,289.8 582.6,293.0 582.9,299.0 583.0,284.5 583.2,302.5 583.3,284.2 583.5,303.9 583.8,286.9 583.9,285.5 584.2,301.9 584.3,299.4 584.4,286.6 584.8,302.7 584.9,287.3 585.1,295.1 585.3,305.0 585.5,286.7 585.8,304.1 586.1,287.4 586.2,296.8 586.5,292.7 586.6,302.6 586.7,285.4 586.9,308.6 587.1,291.0 587.3,300.0 587.5,296.4 587.6,288.6 587.9,301.7 588.1,288.5 588.4,308.5 588.5,293.6 588.7,288.9 588.9,298.0 589.3,302.2 589.4,292.3 589.6,309.6 589.7,302.3 589.9,305.4 590.0,292.3 590.4,286.6 590.5,304.0 590.8,301.0 590.9,295.0 591.1,288.0 591.2,306.6 591.7,302.6 591.8,295.2 592.1,303.3 592.2,288.8 592.5,309.2 592.6,292.7 592.9,308.9 593.0,292.0 593.1,290.3 593.4,304.7 593.7,295.5 593.8,306.0 593.9,293.3 594.2,297.4 594.4,290.0 594.5,303.2 594.8,288.7 595.0,307.0 595.2,294.5 595.3,304.7 595.6,310.8 595.7,292.7 595.9,303.0 596.2,297.0 596.3,289.8 596.5,304.2 596.7,302.6 596.8,300.9 597.1,308.3 597.2,290.5 597.6,308.7 597.8,303.1 597.9,297.3 598.0,307.2 598.5,294.2 598.6,308.0 598.7,309.3 599.0,302.7 599.3,309.0 599.4,291.5 599.6,310.0 599.8,294.9 599.9,310.1 600.1,299.8 600.3,296.4 600.4,304.7 600.7,312.2 600.9,296.9 601.1,309.1 601.2,304.1 601.6,310.0 601.8,296.3 601.9,301.2 602.1,309.4 602.4,301.9 602.6,310.1 602.8,303.9 603.0,296.2 603.1,313.6 603.3,301.4 603.5,295.9 603.7,305.5 603.9,303.0 604.1,295.6 604.3,302.1 604.5,313.9 604.7,311.2 605.0,301.9 605.1,305.9 605.2,310.7 605.7,295.0 605.8,305.7 605.9,299.6 606.2,315.8 606.3,315.5 606.6,298.7 606.9,316.0 607.0,303.5 607.2,301.2 607.4,306.6 607.7,311.2 607.8,295.0 607.9,316.1 608.0,307.4 608.4,313.2 608.5,304.3 608.8,307.7 608.9,305.3 609.3,315.0 609.4,310.7 609.6,308.4 609.7,303.3 610.1,301.1 610.2,318.4 610.4,312.7 610.5,301.8 610.8,305.0 611.0,315.7 611.1,315.7 611.2,308.1 611.6,300.0 611.8,312.5 612.1,303.0 612.2,309.5 612.3,305.3 612.5,313.1 612.7,315.3 612.8,305.8 613.2,309.6 613.3,316.6 613.5,319.9 613.8,312.3 613.9,311.5 614.2,320.8 614.5,301.2 614.6,311.0 614.7,320.0 614.9,307.0 615.1,319.3 615.2,306.4 615.7,319.1 615.8,310.8 615.9,306.0 616.0,316.3 616.3,312.7 616.4,320.9 616.7,306.5 617.0,319.6 617.1,324.9 617.3,305.8 617.6,321.6 617.7,312.5 618.0,313.8 618.1,323.9 618.5,315.9 618.6,302.4 618.8,323.6 618.9,311.6 619.2,311.4 619.3,320.7 619.5,305.4 619.6,325.3 619.9,308.6 620.2,317.2 620.4,324.1 620.5,314.6 620.9,328.2 621.0,315.9 621.3,327.7 621.4,316.3 621.5,311.1 621.6,320.4 622.1,318.6 622.2,327.6 622.4,327.1 622.6,308.8 622.7,323.3 623.0,309.1 623.1,310.8 623.2,326.7 623.5,315.7 623.8,325.4 623.9,312.2 624.1,324.8 624.3,309.2 624.5,324.0 624.7,324.7 624.8,309.3 625.1,311.2 625.2,331.4 625.5,317.3 625.8,327.7 626.0,327.6 626.2,310.7 626.4,330.9 626.6,310.2 626.7,317.8 627.0,324.6 627.1,329.9 627.3,312.3 627.5,314.4 627.8,327.7 628.1,322.8 628.2,334.3 628.4,314.3 628.5,331.9 628.7,327.2 628.9,312.9 629.2,316.3 629.4,332.2 629.5,330.8 629.8,322.8 629.9,334.1 630.2,317.7 630.4,332.2 630.5,316.8 630.9,325.2 631.0,331.6 631.2,330.1 631.4,325.3 631.7,329.3 631.8,317.0 632.0,326.1 632.1,322.7 632.4,315.9 632.5,336.8 632.7,315.3 632.8,332.1 633.2,323.8 633.4,331.2 633.7,334.5 633.8,322.6 633.9,337.3 634.0,329.0 634.3,328.0 634.4,324.3 634.8,329.7 634.9,322.7 635.3,333.9 635.4,318.0 635.5,329.3 635.8,336.3 635.9,319.4 636.1,340.4 636.5,332.4 636.6,340.4 636.9,324.6 637.0,341.6 637.2,328.3 637.4,340.4 637.5,323.5 637.7,340.1 638.0,329.3 638.1,337.5 638.5,336.8 638.6,323.3 638.7,328.5 638.9,344.2 639.3,342.1 639.4,335.9 639.6,335.8 639.7,327.7 639.9,328.4 640.2,344.2 640.3,329.8 640.4,341.8 640.8,344.0 641.0,328.6 641.2,339.8 641.4,325.0 641.5,340.6 641.8,326.5 641.9,342.9 642.0,332.5 642.5,346.4 642.6,333.3 642.8,328.4 643.0,344.2 643.2,332.9 643.4,342.7 643.5,349.8 643.8,333.3 643.9,342.2 644.0,335.4 644.5,334.9 644.6,339.8 644.8,331.6 645.0,349.2 645.1,341.8 645.4,352.2 645.6,346.2 645.7,331.0 646.0,347.7 646.2,335.3 646.4,335.6 646.5,351.5 646.8,344.1 647.0,350.1 647.2,337.0 647.4,352.0 647.6,353.6 647.8,343.1 648.0,333.9 648.2,355.4 648.5,342.7 648.6,352.5 648.7,341.7 648.8,354.4 649.2,354.3 649.4,337.9 649.6,338.9 649.7,353.7 649.9,335.5 650.0,353.5 650.3,338.9 650.5,354.0 650.8,353.1 650.9,344.8 651.1,352.4 651.3,342.7 651.6,343.1 651.7,351.9 651.9,350.3 652.1,358.7 652.4,340.8 652.6,348.9 652.9,342.8 653.0,355.3 653.1,351.4 653.3,344.6 653.5,358.6 653.6,356.2 654.0,345.7 654.2,363.7 654.4,355.1 654.6,348.9 654.7,363.8 654.9,344.3 655.2,346.0 655.4,362.6 655.5,354.1 655.6,362.3 656.1,354.0 656.2,366.0 656.3,351.6 656.6,368.9 656.7,363.4 656.8,352.2 657.1,365.5 657.2,358.1 657.5,368.8 657.8,353.6 658.0,347.9 658.1,363.6 658.3,352.5 658.6,358.9 658.7,366.1 658.8,349.6 659.2,362.2 659.3,368.1 659.6,372.3 659.7,361.6 660.1,351.7 660.2,369.5 660.3,357.1 660.4,371.4 660.7,373.9 660.8,359.9 661.2,354.9 661.4,367.8 661.5,364.0 661.6,373.2 662.1,359.2 662.2,369.1 662.4,356.0 662.5,358.5 662.8,370.5 663.0,363.1 663.2,362.1 663.4,369.2 663.5,375.7 663.7,360.7 664.0,376.1 664.2,363.4 664.4,367.0 664.6,371.0 664.7,379.1 664.9,365.4 665.2,368.6 665.4,378.1 665.5,376.5 665.6,366.5 665.9,381.4 666.2,371.5 666.3,372.9 666.4,380.3 666.8,368.5 667.0,370.8 667.1,386.2 667.4,373.0 667.6,370.2 667.7,375.5 667.9,373.5 668.2,380.5 668.4,373.4 668.5,382.2 668.8,379.4 669.0,387.3 669.1,371.6 669.2,378.4 669.5,373.7 669.6,377.4 670.1,380.5 670.2,372.4 670.4,393.0 670.6,380.2 670.8,377.8 671.0,387.1 671.2,378.6 671.4,395.6 671.5,392.5 671.8,380.7 672.1,396.8 672.2,380.7 672.3,386.4 672.4,398.7 672.9,400.3 673.0,383.5 673.1,385.4 673.3,395.8 673.5,396.3 673.6,386.1 673.9,385.7 674.0,390.9 674.4,400.1 674.5,392.5 674.8,389.4 675.0,397.3 675.3,405.0 675.4,391.3 675.5,404.0 675.8,390.8 676.0,403.3 676.2,393.8 676.5,402.6 676.6,393.0 676.7,394.4 676.9,409.6 677.2,410.1 677.4,393.2 677.6,393.4 677.7,406.9 678.0,396.4 678.1,407.7 678.4,396.0 678.5,410.6 678.7,413.8 679.0,409.5 679.2,415.1 679.4,402.5 679.6,406.5 679.7,414.4 680.0,416.6 680.2,403.6 680.3,398.2 680.5,423.1 680.8,406.9 680.9,414.8 681.1,420.8 681.3,408.4 681.5,409.0 681.7,420.6 681.9,419.2 682.2,411.2 682.3,422.5 682.4,415.3 682.7,407.9 682.8,417.2 683.2,412.8 683.3,430.2 683.5,415.8 683.6,430.9 683.9,412.9 684.1,430.6 684.4,430.0 684.6,421.5 684.7,418.4 684.9,434.5 685.1,424.4 685.2,435.4 685.5,436.1 685.7,420.4 686.0,436.5 686.1,423.3 686.3,421.7 686.5,440.2 686.8,426.2 686.9,442.0 687.2,430.1 687.3,444.3 687.6,432.0 687.7,448.9 687.9,435.7 688.1,447.3 688.4,432.7 688.5,434.5 688.7,436.7 689.0,452.0 689.1,437.1 689.4,445.3 689.5,446.4 689.7,438.4 690.0,452.6 690.2,442.8 690.3,457.9 690.6,440.6 690.7,447.7 690.9,455.2 691.2,460.6 691.4,447.5 691.5,467.4 691.6,446.9 692.1,456.4 692.2,461.8 692.3,451.3 692.5,473.1 692.9,472.6 693.0,459.7 693.2,474.6 693.4,462.8 693.7,465.3 693.8,472.5 694.0,465.6 694.2,479.7 694.3,464.6 694.6,486.5 694.7,486.4 695.0,477.0 695.2,470.2 695.4,487.4 695.7,473.5 695.8,485.3 695.9,493.9 696.1,479.3 696.4,488.8 696.5,482.9 696.9,502.2 697.0,488.1 697.1,498.0 697.3,493.9 697.5,502.8 697.8,490.3 697.9,494.2 698.1,505.1 698.3,503.2 698.4,509.6 698.8,500.3 699.0,513.4 699.3,509.2 699.4,522.3 699.6,513.8 699.8,529.9 700.0,517.6 700.1,528.7 700.4,523.9 700.6,534.8 700.8,524.4 700.9,543.7 701.1,534.0 701.4,553.7 701.6,547.9 701.7,537.4 702.0,561.2 702.2,551.4 702.4,551.0 702.6,566.4 702.8,566.3 703.0,581.8 703.1,563.4 703.3,582.3 703.5,576.6 703.8,590.8 703.9,589.2 704.2,609.4 704.3,601.7 704.6,614.9 704.9,617.4 705.0,636.6 705.2,633.6 705.4,655.2 705.5,656.7 705.8,666.7 706.0,674.6 706.1,700.8 706.3,718.0 706.6,756.6 706.7,778.8 707.0,791.0 707.1,791.0 707.5,790.4 707.6,762.0 707.9,713.3 708.0,711.9 708.3,689.2 708.4,678.6 708.7,659.4 708.8,660.1 709.1,633.7 709.3,632.4 709.5,623.6 709.6,620.8 709.8,603.6 710.0,608.0 710.3,588.8 710.4,590.6 710.7,574.3 710.9,586.5 711.1,571.2 711.4,578.8 711.5,566.7 711.6,575.0 711.8,557.5 712.0,562.5 712.3,555.1 712.4,545.1 712.6,555.8 712.8,547.4 713.1,532.0 713.2,542.7 713.3,527.0 713.6,524.3 713.7,536.5 714.0,520.8 714.3,532.8 714.4,526.7 714.6,516.5 714.8,509.4 714.9,511.9 715.3,511.4 715.4,501.8 715.7,511.0 715.9,501.1 716.1,517.6 716.2,500.7 716.4,508.6 716.6,497.9 716.9,488.4 717.1,496.3 717.2,502.8 717.3,490.5 717.7,482.7 717.9,492.2 718.0,485.5 718.3,492.8 718.6,496.4 718.7,481.6 718.8,477.5 719.1,484.9 719.2,484.8 719.5,473.2 719.6,478.5 719.8,467.9 720.0,484.4 720.3,467.1 720.4,475.1 720.6,467.1 720.8,476.3 720.9,468.3 721.3,459.8 721.4,474.6 721.6,469.4 721.9,455.5 722.2,470.2 722.3,461.0 722.5,461.7 722.6,451.1 722.8,471.0 722.9,449.3 723.2,450.8 723.4,458.5 723.6,453.4 723.7,446.6 724.0,447.5 724.3,454.7 724.5,454.1 724.6,457.8 724.9,452.5 725.0,455.9 725.2,445.3 725.5,443.1 725.7,453.3 725.9,435.6 726.0,438.3 726.2,448.0 726.4,440.4 726.5,446.3 727.0,449.4 727.1,430.9 727.3,430.4 727.5,444.8 727.7,426.9 727.8,432.4 728.0,438.4 728.1,443.4 728.5,431.3 728.6,438.7 728.9,424.0 729.0,433.3 729.3,422.6 729.4,437.2 729.6,435.9 729.9,421.9 730.1,425.5 730.3,433.8 730.4,433.0 730.5,423.9 731.0,434.5 731.1,414.7 731.3,430.3 731.4,412.3 731.6,426.5 731.9,410.4 732.2,412.0 732.3,428.8 732.4,413.3 732.6,424.0 732.8,418.6 732.9,413.4 733.2,413.0 733.3,426.5 733.6,423.4 733.9,412.7 734.0,402.3 734.3,409.2 734.5,420.0 734.6,408.5 734.9,420.8 735.1,409.5 735.2,418.8 735.5,400.6 735.7,414.9 735.9,401.2 736.1,399.5 736.2,413.8 736.4,401.7 736.7,413.1 737.0,402.0 737.1,411.6 737.2,399.1 737.3,412.3 737.6,410.2 737.9,393.1 738.1,404.7 738.3,395.8 738.4,408.4 738.7,400.4 739.0,394.3 739.1,409.1 739.3,401.3 739.4,391.2 739.6,401.7 739.7,391.0 740.0,392.9 740.1,398.2 740.5,404.7 740.7,388.5 741.0,402.2 741.1,388.9 741.2,382.7 741.5,404.5 741.7,387.0 741.9,398.6 742.0,386.8 742.3,403.0 742.5,384.7 742.6,399.0 742.8,384.3 742.9,389.6 743.4,384.4 743.5,394.0 743.7,400.2 743.9,380.7 744.2,381.6 744.3,390.0 744.5,377.3 744.6,395.5 744.9,396.4 745.1,387.9 745.2,394.2 745.3,376.5 745.6,392.1 745.9,382.0 746.0,389.5 746.1,377.7 746.5,390.6 746.7,375.7 747.0,372.0 747.1,389.0 747.2,374.6 747.4,392.4 747.8,380.0 747.9,386.4 748.2,380.8 748.3,371.1 748.4,369.9 748.6,381.5 748.8,385.9 749.0,375.0 749.3,384.1 749.4,369.7 749.7,387.2 749.8,377.0 750.1,370.6 750.2,383.9 750.5,377.6 750.6,375.0 750.8,379.9 750.9,372.2 751.3,382.9 751.5,364.5 751.7,365.2 751.9,373.3 752.0,368.7 752.2,380.4 752.5,366.7 752.7,377.3 752.8,383.2 753.1,377.1 753.2,382.2 753.5,373.9 753.6,374.2 753.8,362.0 754.1,370.7 754.3,359.1 754.5,373.7 754.7,363.1 754.8,365.6 755.1,373.8 755.2,378.2 755.3,366.2 755.6,375.5 755.7,366.7 756.1,370.6 756.3,358.7 756.5,376.6 756.7,362.2 756.9,373.1 757.0,356.9 757.3,356.9 757.4,374.3 757.7,372.6 757.9,357.8 758.0,368.4 758.1,356.7 758.5,354.6 758.7,364.3 758.8,368.9 759.0,358.6 759.2,371.3 759.5,353.4 759.6,361.7 759.7,356.9 760.0,353.6 760.3,368.0 760.6,353.3 760.7,369.7 760.8,365.4 760.9,352.0 761.2,350.3 761.4,356.9 761.6,367.2 761.8,350.9 762.1,355.2 762.2,364.3 762.6,353.6 762.7,367.2 762.8,349.5 763.1,365.3 763.3,367.6 763.4,356.6 763.7,360.4 763.9,346.2 764.2,345.5 764.3,361.7 764.5,356.3 764.7,345.7 764.9,358.1 765.1,342.5 765.3,356.5 765.4,351.7 765.6,357.6 765.8,346.7 766.0,358.7 766.3,344.7 766.4,341.0 766.5,352.1 766.8,363.6 767.0,347.9 767.3,352.5 767.4,346.2 767.7,359.6 767.8,345.4 768.1,352.1 768.2,358.5 768.4,354.2 768.7,346.4 769.0,341.8 769.1,358.1 769.3,357.5 769.4,345.7 769.8,353.8 769.9,340.9 770.2,355.9 770.3,351.7 770.5,347.0 770.6,356.3 770.9,359.0 771.1,350.3 771.4,338.9 771.5,351.4 771.6,339.5 771.7,354.9 772.0,357.0 772.3,342.9 772.4,335.3 772.6,347.1 772.8,345.0 773.1,349.5 773.2,339.1 773.4,352.7 773.7,346.8 773.9,336.5 774.1,339.8 774.3,344.8 774.5,339.5 774.6,347.3 775.0,334.1 775.1,345.3 775.2,335.4 775.5,350.1 775.7,334.1 775.9,343.2 776.0,337.0 776.2,345.0 776.4,348.5 776.5,336.1 776.9,346.3 777.1,337.9 777.4,334.8 777.5,343.9 777.7,342.3 777.9,328.4 778.0,333.6 778.3,345.5 778.6,334.3 778.7,341.8 778.9,337.0 779.0,346.8 779.2,335.4 779.3,348.4 779.6,339.2 779.8,330.0 780.1,342.9 780.2,331.5 780.5,331.5 780.7,346.0 780.8,343.6 781.0,332.0 781.4,328.6 781.5,348.2 781.6,333.6 781.9,342.7 782.2,343.1 782.3,331.5 782.5,336.1 782.6,329.8 782.8,333.6 782.9,339.9 783.2,337.9 783.3,327.9 783.8,331.5 783.9,341.8 784.0,330.3 784.2,339.9 784.4,325.5 784.5,341.4 784.8,340.9 785.0,328.8 785.2,343.7 785.4,330.3 785.8,321.8 785.9,335.9 786.1,332.1 786.2,340.1 786.4,326.8 786.7,338.0 786.8,334.4 787.0,338.5 787.3,340.0 787.4,326.7 787.6,337.7 787.9,324.6 788.2,321.5 788.3,334.3 788.4,329.1 788.7,339.8 788.8,333.9 789.0,326.7 789.3,340.2 789.4,322.5 789.7,339.3 789.9,327.0 790.1,318.6 790.3,339.5 790.6,335.1 790.7,322.5 790.9,322.6 791.1,336.1 791.2,336.0 791.5,323.8 791.7,323.8 791.8,332.0 792.1,318.9 792.3,328.0 792.6,326.1 792.7,335.2 792.8,321.1 793.0,334.6 793.4,329.1 793.5,320.9 793.6,335.1 793.9,319.0 794.1,320.1 794.3,331.5 794.6,337.9 794.7,323.3 795.0,334.2 795.1,316.9 795.2,320.8 795.4,334.5 795.7,331.1 795.9,321.7 796.2,320.4 796.3,334.3 796.4,334.1 796.6,315.8 796.9,336.3 797.1,317.8 797.3,315.9 797.5,326.2 797.6,323.9 797.9,332.7 798.0,318.2 798.2,331.0 798.5,335.1 798.7,322.9 799.0,329.4 799.1,321.8 799.2,332.5 799.4,329.6 799.7,327.5 799.9,318.5 800.2,333.0 800.3,323.0 800.5,317.7 800.7,324.5 800.9,327.5 801.1,314.4 801.3,311.5 801.5,333.5 801.7,328.2 801.9,316.8 802.0,315.8 802.3,331.5 802.6,334.3 802.7,319.0 802.8,331.0 803.1,322.5 803.4,328.5 803.5,318.0 803.6,331.8 803.8,319.3 804.2,315.9 804.3,328.5 804.4,316.2 804.7,329.1 804.9,319.5 805.0,326.9 805.2,319.1 805.3,328.6 805.6,312.1 805.8,327.0 806.1,319.7 806.3,323.0 806.5,325.6 806.6,310.0 806.8,311.6 807.0,319.8 807.4,319.7 807.5,325.6 807.8,318.0 807.9,323.0 808.0,327.9 808.2,312.9 808.6,329.8 808.7,309.2 809.0,307.3 809.1,329.3 809.2,325.5 809.5,313.6 809.6,308.4 809.7,317.3 810.2,317.0 810.3,328.9 810.5,324.6 810.7,317.6 811.0,327.6 811.1,312.6 811.2,328.2 811.4,320.6 811.6,313.8 811.7,325.4 812.0,314.0 812.2,318.8 812.4,311.9 812.5,325.3 812.8,312.2 813.0,323.7 813.2,315.3 813.4,309.4 813.6,329.2 813.7,308.0 814.0,326.6 814.2,309.9 814.5,318.7 814.7,327.7 814.9,309.3 815.1,325.6 815.3,324.9 815.4,309.1 815.6,309.2 815.7,322.6 816.0,324.1 816.2,306.1 816.4,306.6 816.6,325.7 816.8,314.9 817.1,324.4 817.3,327.0 817.5,312.1 817.6,309.0 817.8,318.3 818.0,304.6 818.2,323.1 818.5,312.4 818.6,328.0 818.8,319.6 818.9,315.7 819.2,310.4 819.4,320.0 819.6,310.7 819.9,323.1 820.2,304.8 820.3,320.5 820.5,307.3 820.6,322.7 820.8,322.5 820.9,306.3 821.2,322.3 821.3,309.0 821.6,322.9 821.8,303.6 822.1,306.9 822.2,315.8 822.5,322.1 822.7,310.7 822.9,318.1 823.1,313.9 823.3,303.9 823.4,320.1 823.6,308.7 823.7,316.3 824.0,311.8 824.1,319.7 824.5,315.3 824.7,307.7 825.0,314.2 825.1,303.9 825.2,323.3 825.3,312.5 825.7,315.3 825.9,306.5 826.2,315.3 826.3,306.9 826.4,308.3 826.6,319.9 826.8,314.6 826.9,302.2 827.2,305.8 827.4,321.5 827.8,315.5 827.9,300.5 828.1,320.1 828.2,307.6 828.4,322.0 828.5,305.0 828.8,305.9 829.0,318.1 829.4,301.4 829.5,321.3 829.6,306.2 829.9,317.3 830.0,306.5 830.2,311.5 830.5,303.0 830.6,322.3 831.0,314.5 831.1,310.1 831.4,317.8 831.5,300.6 831.6,302.1 831.7,323.1 832.2,301.0 832.3,323.9 832.4,314.3 832.5,303.1 833.0,319.9 833.1,306.1 833.3,310.4 833.5,318.9 833.8,318.2 833.9,311.1 834.0,316.3 834.3,304.4 834.4,311.6 834.7,318.5 834.8,306.7 835.0,315.1 835.2,301.4 835.4,319.3 835.7,304.3 835.9,319.5 836.0,313.2 836.3,305.1 836.6,299.6 836.7,321.3 836.8,315.8 836.9,303.8 837.2,304.2 837.5,316.0 837.6,302.4 837.8,314.5 838.0,319.3 838.1,301.1 838.4,316.5 838.6,301.8 839.0,308.8 839.1,317.9 839.2,313.4 839.4,318.9 839.6,306.8 839.9,315.8 840.2,310.8 840.3,301.6 840.6,301.0 840.7,318.7 840.9,301.0 841.1,320.0 841.2,306.0 841.4,313.0 841.8,307.6 841.9,301.7 842.1,308.7 842.2,304.2 842.5,311.1 842.7,301.1 842.8,311.2 843.0,301.6 843.4,321.3 843.5,311.9 843.8,312.3 843.9,314.2 844.2,304.5 844.3,316.8 844.4,301.8 844.6,316.4 844.9,303.7 845.1,317.0 845.4,316.4 845.5,307.8 845.6,305.6 845.8,314.1 846.0,301.1 846.2,316.9 846.6,303.0 846.7,318.9 846.8,315.0 847.0,299.3 847.3,318.4 847.5,306.4 847.7,319.8 847.9,301.5 848.0,316.5 848.2,302.6 848.4,302.6 848.5,319.0 848.9,319.6 849.1,302.2 849.2,309.8 849.3,299.4 849.8,303.6 849.9,312.3 850.0,312.1 850.3,321.7 850.4,299.0 850.6,315.9 850.8,314.7 850.9,299.9 851.2,303.8 851.3,316.5 851.7,317.7 851.9,304.8 852.0,312.9 852.3,301.0 852.4,304.1 852.5,317.2 852.8,312.3 853.1,300.2 853.2,313.5 853.4,300.2 853.6,302.8 853.8,311.7 854.2,298.0 854.3,311.7 854.4,301.5 854.6,319.1 854.9,302.9 855.1,314.9 855.3,298.2 855.4,319.1 855.7,313.5 855.8,300.3 856.1,309.0 856.3,317.0 856.5,318.3 856.7,304.2 856.9,316.9 857.0,307.0 857.2,316.4 857.3,305.8 857.6,317.2 857.9,308.3 858.2,299.5 858.3,310.8 858.5,318.3 858.7,309.4 858.9,309.2 859.0,301.6 859.3,302.4 859.5,317.1 859.8,314.2 859.9,302.2 860.0,301.3 860.2,316.3 860.6,314.0 860.7,301.5 860.8,309.0 861.1,304.0 861.3,317.1 861.4,304.8 861.6,315.5 861.9,298.5 862.0,317.8 862.1,299.9 862.4,313.7 862.7,302.4 862.8,303.0 863.1,314.4 863.3,306.4 863.5,314.7 863.6,305.6 863.8,317.6 864.1,316.6 864.3,304.7 864.6,318.3 864.7,307.0 864.8,316.8 864.9,299.3 865.2,310.9 865.3,299.3 865.6,307.7 865.8,315.6 866.1,302.7 866.3,314.6 866.4,305.5 866.7,320.2 866.8,304.3 867.1,316.7 867.4,314.0 867.5,306.6 867.6,300.5 867.8,316.4 868.1,306.3 868.2,317.0 868.4,313.6 868.6,300.7 868.8,307.7 868.9,309.8 869.2,314.5 869.4,304.4 869.7,316.1 869.9,309.0 870.0,304.0 870.1,314.8 870.5,305.8 870.6,317.4 870.8,301.9 871.0,320.7 871.4,301.8 871.5,312.2 871.8,301.4 871.9,317.7 872.2,315.8 872.3,304.1 872.5,320.1 872.6,305.9 873.0,300.0 873.1,309.7 873.3,303.7 873.4,316.1 873.7,298.8 873.9,309.3 874.0,304.2 874.3,314.7 874.5,317.9 874.7,307.0 874.8,317.6 874.9,303.5 875.3,304.1 875.5,317.1 875.8,307.6 875.9,321.4 876.0,305.4 876.3,313.3 876.4,312.3 876.5,309.3 876.8,301.0 877.1,315.5 877.4,306.6 877.5,320.2 877.6,313.1 877.7,304.3 878.2,321.6 878.3,307.2 878.4,302.8 878.7,316.7 878.9,319.0 879.1,303.5 879.3,312.7 879.4,319.1 879.8,319.8 879.9,302.8 880.1,305.9 880.2,312.6 880.4,318.5 880.6,302.7 880.8,303.9 880.9,313.0 881.4,321.2 881.5,305.7 881.7,321.4 881.8,313.6 882.2,317.3 882.3,305.1 882.4,315.2 882.7,306.7 882.9,318.7 883.0,315.4 883.2,320.1 883.5,311.1 883.8,311.9 883.9,302.3 884.0,311.6 884.1,317.9 884.5,320.4 884.6,303.5 885.0,302.9 885.1,315.2 885.2,325.1 885.4,305.5 885.7,307.6 885.9,323.2 886.0,321.9 886.1,305.7 886.4,318.4 886.6,308.1 886.9,319.8 887.0,302.9 887.4,308.3 887.5,321.0 887.7,307.9 887.8,324.6 888.1,314.8 888.2,307.0 888.6,310.5 888.7,318.3 888.8,323.2 889.1,312.6 889.3,315.7 889.4,324.8 889.8,320.8 889.9,315.1 890.2,323.9 890.3,307.6 890.4,303.1 890.7,318.8 890.9,320.7 891.1,303.7 891.4,306.7 891.5,319.0 891.8,305.1 891.9,323.7 892.2,323.3 892.3,308.4 892.5,311.4 892.6,320.2 892.9,310.3 893.1,326.1 893.3,317.6 893.4,308.7 893.6,322.5 893.8,313.3 894.1,319.3 894.3,306.9 894.4,327.5 894.5,309.6 894.8,328.7 895.1,307.1 895.3,319.7 895.5,308.9 895.6,321.5 895.7,309.2 896.0,313.8 896.3,323.2 896.5,324.7 896.7,310.1 896.8,322.9 897.0,315.1 897.2,323.6 897.3,307.6 897.6,324.2 897.8,315.6 898.1,309.7 898.3,322.4 898.6,325.2 898.7,315.9 898.9,329.0 899.0,310.2 899.2,314.8 899.5,323.7 899.6,322.7 899.7,313.6 900.0,308.5 900.2,326.3 900.5,312.3 900.6,328.6 900.8,318.2 901.0,317.4 901.2,314.2 901.3,326.1 901.6,329.5 901.7,313.3 902.0,314.0 902.3,328.6 902.4,329.0 902.6,311.1 902.9,312.6 903.0,328.8 903.2,319.2 903.4,311.1 903.7,324.9 903.8,310.6 904.1,311.5 904.3,321.3 904.4,308.7 904.6,328.1 904.9,312.3 905.0,333.0 905.2,313.5 905.5,325.0 905.7,326.3 905.8,314.0 906.1,316.5 906.3,330.9 906.5,313.2 906.6,326.8 906.9,328.4 907.1,318.3 907.2,313.1 907.4,329.0 907.6,315.0 907.9,331.9 908.2,327.4 908.3,316.2 908.5,318.2 908.7,331.1 908.8,315.3 908.9,329.1 909.2,312.2 909.5,328.5 909.7,324.6 909.9,329.6 910.1,316.1 910.2,328.4 910.4,314.7 910.7,333.5 910.8,322.3 911.1,331.5 911.3,317.0 911.4,330.0 911.6,331.4 911.7,319.2 912.0,323.2 912.3,317.9 912.6,315.6 912.7,323.4 912.9,333.5 913.1,319.7 913.3,332.3 913.4,316.1 913.7,334.4 913.9,318.9 914.1,336.0 914.3,324.0 914.4,317.8 914.6,331.0 914.9,330.1 915.1,322.4 915.2,316.7 915.5,329.9 915.6,322.1 915.9,334.5 916.0,323.4 916.2,332.7 916.4,330.2 916.5,323.0 917.0,332.1 917.1,317.8 917.2,319.7 917.5,336.2 917.6,322.1 917.8,333.5 918.0,320.4 918.1,338.7 918.5,338.3 918.6,325.1 918.8,323.8 919.0,336.2 919.4,321.5 919.5,327.9 919.6,336.2 919.8,322.2 920.0,320.8 920.2,325.2 920.5,321.8 920.6,328.5 920.8,318.5 921.1,338.7 921.3,325.3 921.4,341.9 921.6,323.2 921.8,332.9 922.0,320.5 922.1,331.8 922.4,332.9 922.6,327.8 922.9,324.6 923.0,338.3 923.2,324.5 923.4,338.8 923.6,337.0 923.7,321.3 924.0,319.9 924.1,332.6 924.4,325.6 924.5,336.8 924.8,321.7 925.0,338.3 925.2,328.8 925.5,341.1 925.7,332.4 925.9,340.0 926.1,339.0 926.3,323.0 926.4,326.2 926.6,339.9 927.0,341.9 927.1,330.1 927.2,323.0 927.3,342.3 927.7,338.8 927.9,326.5 928.1,330.7 928.3,341.7 928.5,327.5 928.6,342.1 928.8,331.8 929.1,322.8 929.2,327.0 929.4,333.6 929.7,330.7 929.8,343.3 930.1,342.5 930.3,329.7 930.5,328.5 930.6,334.8 930.8,344.2 931.0,329.0 931.2,335.5 931.4,340.5 931.7,325.4 931.8,342.1 932.0,330.4 932.1,344.5 932.4,330.4 932.6,348.5 932.8,348.3 933.0,333.2 933.4,339.9 933.5,332.1 933.7,333.1 933.8,348.2 934.2,332.5 934.3,347.0 934.4,333.1 934.6,348.9 935.0,341.5 935.1,336.6 935.3,335.2 935.5,344.0 935.6,345.1 935.7,333.8 936.2,349.3 936.3,329.6 936.4,336.9 936.7,347.3 936.8,347.4 937.1,336.0 937.2,335.1 937.4,350.0 937.8,331.9 937.9,341.6 938.0,338.9 938.2,349.9 938.4,336.9 938.7,349.1 938.9,345.5 939.0,336.7 939.2,335.1 939.4,344.1 939.8,348.8 939.9,337.3 940.1,352.7 940.3,346.3 940.4,355.5 940.5,340.0 940.9,335.8 941.1,343.7 941.3,349.0 941.4,337.2 941.6,340.4 941.9,349.8 942.2,338.8 942.3,341.7 942.4,352.0 942.6,345.8 942.8,356.7 943.1,342.0 943.3,337.8 943.4,358.7 943.7,351.2 943.9,338.0 944.1,338.5 944.3,357.1 944.4,350.4 944.6,344.5 945.0,347.7 945.1,340.4 945.4,355.3 945.5,344.4 945.6,341.3 945.7,351.3 946.0,357.5 946.2,342.5 946.5,345.1 946.7,356.6 946.8,352.9 947.1,347.9 947.3,346.4 947.4,354.4 947.8,359.4 947.9,346.1 948.1,349.2 948.2,356.5 948.5,343.0 948.6,359.8 948.8,363.8 948.9,344.3 949.4,347.8 949.5,361.0 949.7,359.0 949.8,347.7 950.0,347.2 950.2,353.2 950.5,363.3 950.7,348.4 950.9,345.9 951.1,362.3 951.2,348.6 951.4,364.4 951.8,358.2 951.9,350.2 952.0,367.3 952.1,356.1 952.4,359.3 952.7,351.7 953.0,349.8 953.1,358.1 953.3,354.2 953.5,366.1 953.7,358.9 953.9,356.1 954.0,362.7 954.1,348.2 954.5,349.7 954.7,361.4 954.8,352.9 955.0,365.1 955.3,362.7 955.4,366.4 955.6,354.8 955.8,368.5 956.0,370.0 956.1,353.1 956.5,370.2 956.6,362.9 956.8,354.0 957.0,369.0 957.3,355.0 957.5,361.9 957.7,365.8 957.8,353.6 958.0,367.6 958.1,363.0 958.5,355.4 958.7,371.9 958.8,360.7 959.0,370.3 959.3,368.7 959.4,377.1 959.6,369.7 959.7,358.8 960.2,371.4 960.3,359.6 960.4,367.3 960.5,376.1 960.9,374.9 961.1,361.1 961.3,360.8 961.4,372.3 961.6,377.4 961.7,363.2 962.2,376.1 962.3,362.8 962.4,377.6 962.6,361.9 962.8,363.5 963.0,376.2 963.4,362.6 963.5,379.6 963.6,360.8 963.7,381.0 964.2,383.4 964.3,365.9 964.6,366.5 964.7,379.5 964.9,375.7 965.1,366.3 965.4,369.0 965.5,380.2 965.6,385.0 965.8,369.1 966.0,386.1 966.1,373.2 966.4,371.4 966.5,384.9 966.8,375.3 967.1,385.0 967.4,374.5 967.5,387.3 967.6,371.3 967.9,382.2 968.0,367.5 968.3,379.8 968.4,370.8 968.6,379.8 968.8,373.6 969.0,386.8 969.2,371.9 969.3,392.1 969.6,372.1 969.7,391.5 970.1,388.8 970.3,373.4 970.4,385.9 970.6,376.3 970.9,388.6 971.1,382.0 971.2,380.4 971.3,388.4 971.6,379.0 971.8,393.5 972.0,396.2 972.1,380.1 972.5,381.4 972.6,377.3 972.8,396.7 973.1,381.9 973.2,378.3 973.4,396.1 973.6,382.7 973.9,397.0 974.2,392.5 974.3,380.7 974.4,394.6 974.6,384.0 974.8,384.5 974.9,395.1 975.2,397.4 975.5,393.6 975.8,381.8 975.9,398.8 976.1,398.2 976.2,386.1 976.6,401.5 976.7,388.4 976.9,403.2 977.0,387.7 977.4,403.5 977.5,388.9 977.6,404.0 977.8,391.4 978.2,390.3 978.3,404.5 978.6,398.6 978.7,390.5 978.8,387.6 978.9,403.2 979.2,394.1 979.3,409.6 979.6,392.6 979.9,410.8 980.1,402.5 980.2,393.6 980.6,398.1 980.7,404.7 980.9,410.5 981.0,395.0 981.2,410.2 981.5,401.0 981.6,396.7 981.9,415.3 982.0,409.3 982.1,413.7 982.4,399.9 982.7,413.4 982.8,415.4 982.9,403.9"/>
</g>
<text class="tk" transform="translate(87.9,763.5) scale(1,1.04)" text-anchor="middle">0</text>
<text class="tk" transform="translate(187.0,763.5) scale(1,1.04)" text-anchor="middle">0.01</text>
<text class="tk" transform="translate(286.1,763.5) scale(1,1.04)" text-anchor="middle">0.02</text>
<text class="tk" transform="translate(385.1,763.5) scale(1,1.04)" text-anchor="middle">0.03</text>
<text class="tk" transform="translate(484.2,763.5) scale(1,1.04)" text-anchor="middle">0.04</text>
<text class="tk" transform="translate(583.3,763.5) scale(1,1.04)" text-anchor="middle">0.05</text>
<text class="tk" transform="translate(682.4,763.5) scale(1,1.04)" text-anchor="middle">0.06</text>
<text class="tk" transform="translate(781.5,763.5) scale(1,1.04)" text-anchor="middle">0.07</text>
<text class="tk" transform="translate(880.5,763.5) scale(1,1.04)" text-anchor="middle">0.08</text>
<text class="tk" transform="translate(979.6,763.5) scale(1,1.04)" text-anchor="middle">0.09</text>
<text class="tk" transform="translate(77.9,701.1) scale(1,1.04)" text-anchor="end">10<tspan class="ex" dy="-10.7">-6</tspan></text>
<text class="tk" transform="translate(77.9,602.9) scale(1,1.04)" text-anchor="end">10<tspan class="ex" dy="-10.7">-4</tspan></text>
<text class="tk" transform="translate(77.9,504.8) scale(1,1.04)" text-anchor="end">10<tspan class="ex" dy="-10.7">-2</tspan></text>
<text class="tk" transform="translate(77.9,406.6) scale(1,1.04)" text-anchor="end">10<tspan class="ex" dy="-10.7">0</tspan></text>
<text class="tk" transform="translate(77.9,308.4) scale(1,1.04)" text-anchor="end">10<tspan class="ex" dy="-10.7">2</tspan></text>
<text class="tk" transform="translate(77.9,210.3) scale(1,1.04)" text-anchor="end">10<tspan class="ex" dy="-10.7">4</tspan></text>
<text class="tk" transform="translate(77.9,112.1) scale(1,1.04)" text-anchor="end">10<tspan class="ex" dy="-10.7">6</tspan></text>
<text class="lb" x="325.5" y="795.6">Normalized Frequency x <tspan textLength="15.6" lengthAdjust="spacingAndGlyphs" style="font-family:'Liberation Serif','DejaVu Serif',serif;font-style:italic;font-size:22px">π</tspan> rad/sample</text>
<text class="lb" transform="translate(24.5,381.65) rotate(-90)" style="font-size:24.8px" text-anchor="middle">Power/frequency (dB/rad/sample)</text>
<text x="535.65" y="24.6" text-anchor="middle" style="font-size:24.76px;font-weight:bold;fill:#000">Power spectral density of line codes</text>
<rect x="800.5" y="47.0" width="221.4" height="58.5" fill="#fff" stroke="#262626" stroke-width="1.3"/>
<line x1="807" x2="875" y1="62.9" y2="62.9" stroke="#D95319" stroke-width="4.6"/>
<line x1="807" x2="875" y1="89.8" y2="89.8" stroke="#77AC30" stroke-width="4.6"/>
<text class="lg" x="879.8" y="71.2">Bipolar NRZ(L)</text>
<text class="lg" x="879.8" y="97.2">Manchester</text>
</svg></body></html>
